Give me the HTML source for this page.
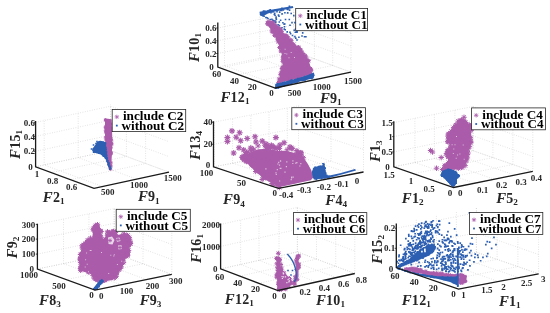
<!DOCTYPE html>
<html><head><meta charset="utf-8"><style>
html,body{margin:0;padding:0;background:#fff;}
svg{display:block;filter:blur(0.45px);font-family:"Liberation Serif","Times New Roman",serif;}
</style></head><body>
<svg width="550" height="313" viewBox="0 0 550 313">
<rect width="550" height="313" fill="#fff"/>
<path d="M217.8,28.0L293.6,12.2M217.8,40.8L293.6,25.0M217.8,53.5L293.6,37.7M224.5,65.6V21.0M281.9,86.6L224.5,65.6M259.7,58.3V13.7M317.1,79.3L259.7,58.3M293.6,51.2V6.6M351.0,72.2L293.6,51.2M293.6,12.2L351.0,33.2M293.6,25.0L351.0,46.0M293.6,37.7L351.0,58.7M296.1,52.1V7.5M220.3,67.9L296.1,52.1M314.4,58.8V14.2M238.6,74.6L314.4,58.8M332.7,65.5V20.9M256.9,81.3L332.7,65.5M351.0,72.2V27.6M275.2,88.0L351.0,72.2M217.8,67.0L293.6,51.2L351.0,72.2" stroke="#c8c8c8" stroke-width="0.6" stroke-dasharray="0.8,1.6" fill="none"/>
<path d="M35.6,122.4L110.6,106.2M35.6,136.4L110.6,120.2M35.6,151.3L110.6,135.1M44.2,165.0V119.2M102.5,186.5L44.2,165.0M78.2,157.6V111.8M136.6,179.1L78.2,157.6M110.6,150.6V104.8M169.0,172.1L110.6,150.6M110.6,106.2L169.0,127.7M110.6,120.2L169.0,141.7M110.6,135.1L169.0,156.6M110.6,150.6V104.8M35.6,166.8L110.6,150.6M126.4,156.4V110.6M51.4,172.6L126.4,156.4M145.6,163.5V117.7M70.6,179.7L145.6,163.5M35.6,166.8L110.6,150.6L169.0,172.1" stroke="#c8c8c8" stroke-width="0.6" stroke-dasharray="0.8,1.6" fill="none"/>
<path d="M213.5,122.2L298.5,105.8M213.5,144.3L298.5,127.9M214.3,166.7V121.1M279.4,188.2L214.3,166.7M232.6,163.2V117.6M297.6,184.7L232.6,163.2M250.9,159.7V114.1M315.9,181.2L250.9,159.7M269.0,156.2V110.6M334.0,177.7L269.0,156.2M287.3,152.7V107.1M352.3,174.2L287.3,152.7M298.5,105.8L363.5,127.3M298.5,127.9L363.5,149.4M298.5,150.5V104.9M213.5,166.9L298.5,150.5M331.0,161.2V115.6M246.0,177.7L331.0,161.2M363.5,172.0V126.4M278.5,188.4L363.5,172.0M213.5,166.9L298.5,150.5L363.5,172.0" stroke="#c8c8c8" stroke-width="0.6" stroke-dasharray="0.8,1.6" fill="none"/>
<path d="M393.8,122.6L473.0,106.5M393.8,136.6L473.0,120.5M393.8,151.9L473.0,135.8M414.9,162.5V117.0M474.7,183.2L414.9,162.5M434.4,158.5V113.0M494.2,179.2L434.4,158.5M454.9,154.4V108.9M514.7,175.1L454.9,154.4M473.0,150.7V105.2M532.8,171.4L473.0,150.7M473.0,106.5L532.8,127.2M473.0,120.5L532.8,141.2M473.0,135.8L532.8,156.5M473.0,150.7V105.2M393.8,166.8L473.0,150.7M492.9,157.6V112.1M413.7,173.7L492.9,157.6M512.9,164.5V119.0M433.7,180.6L512.9,164.5M532.8,171.4V125.9M453.6,187.5L532.8,171.4M393.8,166.8L473.0,150.7L532.8,171.4" stroke="#c8c8c8" stroke-width="0.6" stroke-dasharray="0.8,1.6" fill="none"/>
<path d="M37.4,224.4L114.2,208.6M37.4,239.1L114.2,223.3M37.4,254.1L114.2,238.3M63.5,263.6V218.4M121.1,284.8L63.5,263.6M88.9,258.4V213.2M146.5,279.6L88.9,258.4M114.2,253.2V208.0M171.8,274.4L114.2,253.2M114.2,208.6L171.8,229.8M114.2,223.3L171.8,244.5M114.2,238.3L171.8,259.5M114.2,253.2V208.0M37.4,269.0L114.2,253.2M143.0,263.8V218.6M66.2,279.6L143.0,263.8M171.8,274.4V229.2M95.0,290.2L171.8,274.4M37.4,269.0L114.2,253.2L171.8,274.4" stroke="#c8c8c8" stroke-width="0.6" stroke-dasharray="0.8,1.6" fill="none"/>
<path d="M220.6,224.4L297.4,207.4M220.6,246.4L297.4,229.4M240.6,264.5V219.0M298.0,286.1L240.6,264.5M259.0,260.4V214.9M316.4,282.0L259.0,260.4M279.0,256.0V210.5M336.4,277.6L279.0,256.0M297.4,251.9V206.4M354.8,273.5L297.4,251.9M297.4,207.4L354.8,229.0M297.4,229.4L354.8,251.0M297.4,251.9V206.4M220.6,268.9L297.4,251.9M316.5,259.1V213.6M239.7,276.1L316.5,259.1M335.7,266.3V220.8M258.9,283.3L335.7,266.3M354.8,273.5V228.0M278.0,290.5L354.8,273.5M220.6,268.9L297.4,251.9L354.8,273.5" stroke="#c8c8c8" stroke-width="0.6" stroke-dasharray="0.8,1.6" fill="none"/>
<path d="M396.3,228.2L476.4,212.8M396.3,248.3L476.4,232.9M416.3,263.8V219.6M478.5,285.4L416.3,263.8M436.4,259.9V215.7M498.6,281.5L436.4,259.9M456.4,256.1V211.9M518.6,277.6L456.4,256.1M476.4,252.2V208.0M538.6,273.8L476.4,252.2M476.4,212.8L538.6,234.4M476.4,232.9L538.6,254.5M476.4,252.2V208.0M396.3,267.6L476.4,252.2M497.1,259.4V215.2M417.0,274.8L497.1,259.4M517.9,266.6V222.4M437.8,282.0L517.9,266.6M538.6,273.8V229.6M458.5,289.2L538.6,273.8M396.3,267.6L476.4,252.2L538.6,273.8" stroke="#c8c8c8" stroke-width="0.6" stroke-dasharray="0.8,1.6" fill="none"/>
<path d="M259.5,11.8 L292.8,6.0 L293.2,8.0 L275.0,11.5 L268.0,13.6 L263.0,16.2 L260.0,15.5Z" fill="#2c5fb2" />
<path d="M281.1,7.5h1.6v1.6h-1.6zM264.1,10.4h1.6v1.6h-1.6zM263.0,10.2h1.6v1.6h-1.6zM288.6,5.5h1.6v1.6h-1.6zM288.7,5.7h1.6v1.6h-1.6zM274.6,9.0h1.6v1.6h-1.6zM286.8,8.7h1.6v1.6h-1.6zM262.6,10.6h1.6v1.6h-1.6zM268.6,9.4h1.6v1.6h-1.6zM270.2,11.8h1.6v1.6h-1.6zM282.6,9.2h1.6v1.6h-1.6zM262.9,10.3h1.6v1.6h-1.6zM279.8,9.5h1.6v1.6h-1.6zM286.3,8.1h1.6v1.6h-1.6zM272.2,11.2h1.6v1.6h-1.6zM287.2,8.6h1.6v1.6h-1.6zM276.2,10.9h1.6v1.6h-1.6zM267.1,10.2h1.6v1.6h-1.6zM269.5,9.0h1.6v1.6h-1.6zM280.9,9.6h1.6v1.6h-1.6z" fill="#2c5fb2"/>
<path d="M260.7,14.0h1.6v1.6h-1.6zM261.9,15.0h1.6v1.6h-1.6zM263.3,15.4h1.6v1.6h-1.6zM265.1,16.7h1.6v1.6h-1.6zM266.2,17.0h1.6v1.6h-1.6zM267.2,17.7h1.6v1.6h-1.6zM269.4,18.7h1.6v1.6h-1.6zM271.1,18.5h1.6v1.6h-1.6zM272.1,19.6h1.6v1.6h-1.6zM273.1,20.0h1.6v1.6h-1.6zM274.8,20.2h1.6v1.6h-1.6z" fill="#2c5fb2"/>
<path d="M273.1,21.0h1.6v1.6h-1.6zM275.0,21.6h1.6v1.6h-1.6zM277.3,24.0h1.6v1.6h-1.6zM278.6,24.8h1.6v1.6h-1.6zM281.2,26.9h1.6v1.6h-1.6zM283.5,28.3h1.6v1.6h-1.6zM284.4,29.0h1.6v1.6h-1.6zM286.4,31.1h1.6v1.6h-1.6zM289.2,31.4h1.6v1.6h-1.6zM289.8,32.9h1.6v1.6h-1.6zM291.7,34.7h1.6v1.6h-1.6zM294.1,35.8h1.6v1.6h-1.6zM295.0,37.5h1.6v1.6h-1.6z" fill="#2c5fb2"/>
<path d="M283.7,25.9h1.6v1.6h-1.6zM288.8,9.3h1.6v1.6h-1.6zM296.0,30.7h1.6v1.6h-1.6zM295.2,31.2h1.6v1.6h-1.6zM279.8,19.5h1.6v1.6h-1.6zM273.9,12.5h1.6v1.6h-1.6zM286.9,12.1h1.6v1.6h-1.6zM275.3,17.9h1.6v1.6h-1.6zM278.9,11.3h1.6v1.6h-1.6zM282.1,22.0h1.6v1.6h-1.6zM278.2,15.5h1.6v1.6h-1.6zM284.1,12.0h1.6v1.6h-1.6zM294.8,28.2h1.6v1.6h-1.6zM275.6,18.5h1.6v1.6h-1.6zM277.7,14.3h1.6v1.6h-1.6zM294.5,31.5h1.6v1.6h-1.6zM293.4,29.5h1.6v1.6h-1.6zM274.3,14.4h1.6v1.6h-1.6zM273.5,13.7h1.6v1.6h-1.6zM294.1,21.8h1.6v1.6h-1.6zM296.3,30.8h1.6v1.6h-1.6zM291.2,21.8h1.6v1.6h-1.6zM290.4,12.7h1.6v1.6h-1.6zM296.2,31.5h1.6v1.6h-1.6zM275.3,16.3h1.6v1.6h-1.6zM278.5,21.2h1.6v1.6h-1.6zM283.3,23.4h1.6v1.6h-1.6zM281.3,13.1h1.6v1.6h-1.6z" fill="#2c5fb2"/>
<path d="M284.7,18.7h1.6v1.6h-1.6zM288.5,18.7h1.6v1.6h-1.6zM284.0,23.2h1.6v1.6h-1.6zM289.2,24.4h1.6v1.6h-1.6zM301.9,32.1h1.6v1.6h-1.6zM305.1,35.9h1.6v1.6h-1.6zM301.2,35.2h1.6v1.6h-1.6zM298.1,36.5h1.6v1.6h-1.6zM293.0,14.8h1.6v1.6h-1.6zM303.7,35.9h1.6v1.6h-1.6zM296.2,39.2h1.6v1.6h-1.6z" fill="#2c5fb2"/>
<path d="M266.5,22.9 L267.9,21.4 L270.7,21.2 L272.2,22.0 L275.4,25.8 L279.2,28.4 L282.9,32.2 L288.1,37.3 L293.2,42.4 L298.3,47.5 L302.4,52.5 L305.4,55.5 L308.3,60.4 L309.9,64.2 L311.5,71.6 L312.1,73.8 L299.8,77.2 L289.8,80.2 L277.7,83.2 L279.3,78.1 L280.3,73.6 L282.3,68.2 L282.8,64.0 L281.8,53.9 L279.8,47.9 L277.9,42.8 L275.3,37.6 L272.7,32.5 L270.1,28.5 L267.0,24.8Z" fill="#aa5caa" />
<path d="M265.2,23.3h4.4M267.4,21.1v4.4M265.8,21.7l3.2,3.2M265.8,24.9l3.2,-3.2M286.0,37.8h4.4M288.2,35.6v4.4M286.6,36.2l3.2,3.2M286.6,39.4l3.2,-3.2M280.6,68.0h4.4M282.8,65.8v4.4M281.2,66.4l3.2,3.2M281.2,69.5l3.2,-3.2M304.1,57.9h4.4M306.3,55.7v4.4M304.7,56.3l3.2,3.2M304.7,59.5l3.2,-3.2M288.0,79.3h4.4M290.2,77.1v4.4M288.6,77.7l3.2,3.2M288.6,80.8l3.2,-3.2M277.5,29.6h4.4M279.7,27.4v4.4M278.1,28.0l3.2,3.2M278.1,31.2l3.2,-3.2M295.7,47.3h4.4M297.9,45.1v4.4M296.3,45.7l3.2,3.2M296.3,48.9l3.2,-3.2M280.6,59.3h4.4M282.8,57.1v4.4M281.2,57.7l3.2,3.2M281.2,60.9l3.2,-3.2M287.0,79.6h4.4M289.2,77.4v4.4M287.6,78.0l3.2,3.2M287.6,81.2l3.2,-3.2M272.4,35.5h4.4M274.6,33.3v4.4M273.0,33.9l3.2,3.2M273.0,37.0l3.2,-3.2M278.3,82.0h4.4M280.5,79.8v4.4M278.9,80.4l3.2,3.2M278.9,83.6l3.2,-3.2M295.4,77.2h4.4M297.6,75.0v4.4M296.1,75.6l3.2,3.2M296.1,78.7l3.2,-3.2M305.8,74.5h4.4M308.0,72.3v4.4M306.4,72.9l3.2,3.2M306.4,76.0l3.2,-3.2M301.2,75.1h4.4M303.4,72.9v4.4M301.8,73.6l3.2,3.2M301.8,76.7l3.2,-3.2M279.4,72.8h4.4M281.6,70.6v4.4M280.0,71.2l3.2,3.2M280.0,74.3l3.2,-3.2M269.5,30.9h4.4M271.7,28.7v4.4M270.2,29.3l3.2,3.2M270.2,32.5l3.2,-3.2M287.3,79.2h4.4M289.5,77.0v4.4M288.0,77.6l3.2,3.2M288.0,80.8l3.2,-3.2M277.3,47.5h4.4M279.5,45.3v4.4M277.9,45.9l3.2,3.2M277.9,49.1l3.2,-3.2M279.5,31.4h4.4M281.7,29.2v4.4M280.2,29.9l3.2,3.2M280.2,33.0l3.2,-3.2M273.0,25.6h4.4M275.2,23.4v4.4M273.6,24.1l3.2,3.2M273.6,27.2l3.2,-3.2M272.6,26.1h4.4M274.8,23.9v4.4M273.2,24.5l3.2,3.2M273.2,27.7l3.2,-3.2M280.9,57.2h4.4M283.1,55.0v4.4M281.5,55.6l3.2,3.2M281.5,58.8l3.2,-3.2M283.5,35.8h4.4M285.7,33.6v4.4M284.1,34.2l3.2,3.2M284.1,37.4l3.2,-3.2M276.8,79.0h4.4M279.0,76.8v4.4M277.5,77.4l3.2,3.2M277.5,80.6l3.2,-3.2M275.4,39.8h4.4M277.6,37.6v4.4M276.0,38.3l3.2,3.2M276.0,41.4l3.2,-3.2M291.4,44.3h4.4M293.6,42.1v4.4M292.0,42.7l3.2,3.2M292.0,45.8l3.2,-3.2M308.4,69.5h4.4M310.6,67.3v4.4M309.1,67.9l3.2,3.2M309.1,71.1l3.2,-3.2M265.6,24.1h4.4M267.8,21.9v4.4M266.2,22.5l3.2,3.2M266.2,25.7l3.2,-3.2M284.6,36.4h4.4M286.8,34.2v4.4M285.2,34.8l3.2,3.2M285.2,38.0l3.2,-3.2M295.0,77.8h4.4M297.2,75.6v4.4M295.6,76.2l3.2,3.2M295.6,79.4l3.2,-3.2M289.1,40.6h4.4M291.3,38.4v4.4M289.7,39.0l3.2,3.2M289.7,42.2l3.2,-3.2M279.7,68.5h4.4M281.9,66.3v4.4M280.3,66.9l3.2,3.2M280.3,70.1l3.2,-3.2M288.4,79.6h4.4M290.6,77.4v4.4M289.0,78.1l3.2,3.2M289.0,81.2l3.2,-3.2M266.0,21.6h4.4M268.2,19.4v4.4M266.6,20.0l3.2,3.2M266.6,23.2l3.2,-3.2M276.3,82.5h4.4M278.5,80.3v4.4M276.9,80.9l3.2,3.2M276.9,84.1l3.2,-3.2M271.2,25.2h4.4M273.4,23.0v4.4M271.8,23.6l3.2,3.2M271.8,26.8l3.2,-3.2M280.9,56.4h4.4M283.1,54.2v4.4M281.5,54.8l3.2,3.2M281.5,58.0l3.2,-3.2M277.6,29.1h4.4M279.8,26.9v4.4M278.2,27.6l3.2,3.2M278.2,30.7l3.2,-3.2M268.8,22.3h4.4M271.0,20.1v4.4M269.4,20.7l3.2,3.2M269.4,23.9l3.2,-3.2M298.3,50.1h4.4M300.5,47.9v4.4M299.0,48.5l3.2,3.2M299.0,51.7l3.2,-3.2M308.4,73.6h4.4M310.6,71.4v4.4M309.1,72.0l3.2,3.2M309.1,75.2l3.2,-3.2M278.7,51.0h4.4M280.9,48.8v4.4M279.3,49.4l3.2,3.2M279.3,52.6l3.2,-3.2M282.6,35.4h4.4M284.8,33.2v4.4M283.2,33.8l3.2,3.2M283.2,37.0l3.2,-3.2M285.5,80.0h4.4M287.7,77.8v4.4M286.1,78.4l3.2,3.2M286.1,81.6l3.2,-3.2M275.7,27.3h4.4M277.9,25.1v4.4M276.4,25.7l3.2,3.2M276.4,28.9l3.2,-3.2M278.2,74.3h4.4M280.4,72.1v4.4M278.9,72.7l3.2,3.2M278.9,75.8l3.2,-3.2M272.2,26.2h4.4M274.4,24.0v4.4M272.8,24.7l3.2,3.2M272.8,27.8l3.2,-3.2M277.0,83.7h4.4M279.2,81.5v4.4M277.6,82.1l3.2,3.2M277.6,85.3l3.2,-3.2M274.3,27.7h4.4M276.5,25.5v4.4M274.9,26.1l3.2,3.2M274.9,29.2l3.2,-3.2M271.6,25.4h4.4M273.8,23.2v4.4M272.2,23.8l3.2,3.2M272.2,27.0l3.2,-3.2M305.6,74.8h4.4M307.8,72.6v4.4M306.2,73.2l3.2,3.2M306.2,76.4l3.2,-3.2M288.4,78.9h4.4M290.6,76.7v4.4M289.0,77.4l3.2,3.2M289.0,80.5l3.2,-3.2M298.0,49.7h4.4M300.2,47.5v4.4M298.7,48.1l3.2,3.2M298.7,51.3l3.2,-3.2M293.1,78.5h4.4M295.3,76.3v4.4M293.7,76.9l3.2,3.2M293.7,80.1l3.2,-3.2M278.3,29.6h4.4M280.5,27.4v4.4M278.9,28.0l3.2,3.2M278.9,31.2l3.2,-3.2M270.5,22.6h4.4M272.7,20.4v4.4M271.1,21.0l3.2,3.2M271.1,24.2l3.2,-3.2M303.1,55.6h4.4M305.3,53.4v4.4M303.7,54.0l3.2,3.2M303.7,57.2l3.2,-3.2M280.5,61.6h4.4M282.7,59.4v4.4M281.1,60.0l3.2,3.2M281.1,63.2l3.2,-3.2M297.7,77.2h4.4M299.9,75.0v4.4M298.3,75.6l3.2,3.2M298.3,78.8l3.2,-3.2M306.5,60.7h4.4M308.7,58.5v4.4M307.1,59.1l3.2,3.2M307.1,62.3l3.2,-3.2M296.2,47.3h4.4M298.4,45.1v4.4M296.8,45.7l3.2,3.2M296.8,48.9l3.2,-3.2M280.8,66.6h4.4M283.0,64.4v4.4M281.4,65.0l3.2,3.2M281.4,68.1l3.2,-3.2M288.1,40.0h4.4M290.3,37.8v4.4M288.7,38.4l3.2,3.2M288.7,41.6l3.2,-3.2M270.1,32.1h4.4M272.3,29.9v4.4M270.7,30.5l3.2,3.2M270.7,33.7l3.2,-3.2M278.9,50.9h4.4M281.1,48.7v4.4M279.5,49.4l3.2,3.2M279.5,52.5l3.2,-3.2M298.4,76.1h4.4M300.6,73.9v4.4M299.0,74.5l3.2,3.2M299.0,77.7l3.2,-3.2M308.2,68.6h4.4M310.4,66.4v4.4M308.8,67.0l3.2,3.2M308.8,70.2l3.2,-3.2M279.0,74.5h4.4M281.2,72.3v4.4M279.6,72.9l3.2,3.2M279.6,76.1l3.2,-3.2M305.3,60.7h4.4M307.5,58.5v4.4M305.9,59.1l3.2,3.2M305.9,62.3l3.2,-3.2M279.5,71.4h4.4M281.7,69.2v4.4M280.2,69.8l3.2,3.2M280.2,73.0l3.2,-3.2M308.9,70.6h4.4M311.1,68.4v4.4M309.5,69.0l3.2,3.2M309.5,72.1l3.2,-3.2M271.0,23.1h4.4M273.2,20.9v4.4M271.6,21.5l3.2,3.2M271.6,24.6l3.2,-3.2M272.2,25.8h4.4M274.4,23.6v4.4M272.8,24.3l3.2,3.2M272.8,27.4l3.2,-3.2M296.6,48.1h4.4M298.8,45.9v4.4M297.2,46.5l3.2,3.2M297.2,49.6l3.2,-3.2M274.4,27.7h4.4M276.6,25.5v4.4M275.0,26.1l3.2,3.2M275.0,29.3l3.2,-3.2M276.1,42.0h4.4M278.3,39.8v4.4M276.7,40.4l3.2,3.2M276.7,43.6l3.2,-3.2M299.5,51.8h4.4M301.7,49.6v4.4M300.1,50.2l3.2,3.2M300.1,53.4l3.2,-3.2M300.7,53.5h4.4M302.9,51.3v4.4M301.3,51.9l3.2,3.2M301.3,55.1l3.2,-3.2M284.1,35.9h4.4M286.3,33.7v4.4M284.7,34.4l3.2,3.2M284.7,37.5l3.2,-3.2M296.6,49.8h4.4M298.8,47.6v4.4M297.2,48.2l3.2,3.2M297.2,51.4l3.2,-3.2" stroke="#aa5caa" stroke-width="1.0" fill="none"/>
<path d="M290.7,52.0h1.0v1.0h-1.0zM284.5,52.9h1.0v1.0h-1.0zM294.0,57.1h1.0v1.0h-1.0zM288.5,57.2h1.0v1.0h-1.0zM284.6,48.7h1.0v1.0h-1.0zM286.3,53.5h1.0v1.0h-1.0z" fill="#fff" opacity="0.6"/>
<path d="M274.5,88.5 L276.0,83.8 L290.0,80.2 L300.0,77.5 L313.3,73.3 L314.5,75.0 L313.5,78.3 L300.0,81.5 L290.0,84.5 L277.0,88.8Z" fill="#2c5fb2" />
<path d="M275.1,84.2h1.6v1.6h-1.6zM297.0,77.8h1.6v1.6h-1.6zM309.3,77.5h1.6v1.6h-1.6zM294.8,81.0h1.6v1.6h-1.6zM297.7,79.8h1.6v1.6h-1.6zM304.3,75.7h1.6v1.6h-1.6zM275.1,87.5h1.6v1.6h-1.6zM297.1,80.3h1.6v1.6h-1.6zM276.0,84.3h1.6v1.6h-1.6zM282.7,84.8h1.6v1.6h-1.6zM296.2,80.4h1.6v1.6h-1.6zM282.7,81.9h1.6v1.6h-1.6zM312.4,74.5h1.6v1.6h-1.6zM290.1,82.2h1.6v1.6h-1.6zM309.3,77.0h1.6v1.6h-1.6zM300.7,79.3h1.6v1.6h-1.6zM290.5,79.3h1.6v1.6h-1.6zM282.1,81.9h1.6v1.6h-1.6zM279.8,83.0h1.6v1.6h-1.6zM311.6,76.8h1.6v1.6h-1.6zM305.7,78.1h1.6v1.6h-1.6zM312.5,72.8h1.6v1.6h-1.6zM290.7,82.1h1.6v1.6h-1.6zM312.6,74.2h1.6v1.6h-1.6zM303.0,79.5h1.6v1.6h-1.6zM296.2,81.1h1.6v1.6h-1.6zM277.0,83.1h1.6v1.6h-1.6zM296.8,81.0h1.6v1.6h-1.6zM295.6,80.3h1.6v1.6h-1.6zM312.3,73.4h1.6v1.6h-1.6zM312.1,73.7h1.6v1.6h-1.6zM293.4,81.4h1.6v1.6h-1.6zM304.4,79.2h1.6v1.6h-1.6zM283.4,81.4h1.6v1.6h-1.6zM295.6,81.2h1.6v1.6h-1.6zM311.0,77.7h1.6v1.6h-1.6zM275.8,83.4h1.6v1.6h-1.6zM301.7,79.1h1.6v1.6h-1.6zM301.5,79.6h1.6v1.6h-1.6zM312.8,74.5h1.6v1.6h-1.6zM310.8,73.4h1.6v1.6h-1.6zM282.7,85.4h1.6v1.6h-1.6zM275.8,86.6h1.6v1.6h-1.6zM274.9,86.4h1.6v1.6h-1.6zM288.7,82.4h1.6v1.6h-1.6zM309.5,74.0h1.6v1.6h-1.6zM289.0,80.8h1.6v1.6h-1.6zM289.0,80.4h1.6v1.6h-1.6zM282.9,81.9h1.6v1.6h-1.6zM277.7,87.1h1.6v1.6h-1.6z" fill="#2c5fb2"/>
<path d="M105.0,119.5 L108.0,118.8 L111.6,119.3 L112.2,135.0 L112.0,152.0 L111.5,162.0 L111.0,170.5 L109.0,170.0 L107.0,163.0 L105.5,150.0 L105.0,135.0Z" fill="#aa5caa" />
<path d="M104.2,139.4h3.2M105.8,137.8v3.2M104.6,138.3l2.3,2.3M104.6,140.6l2.3,-2.3M104.2,132.0h3.2M105.8,130.4v3.2M104.6,130.9l2.3,2.3M104.6,133.2l2.3,-2.3M109.6,138.2h3.2M111.2,136.6v3.2M110.1,137.1l2.3,2.3M110.1,139.4l2.3,-2.3M109.4,166.4h3.2M111.0,164.8v3.2M109.9,165.3l2.3,2.3M109.9,167.6l2.3,-2.3M103.9,120.0h3.2M105.5,118.4v3.2M104.4,118.8l2.3,2.3M104.4,121.1l2.3,-2.3M109.4,162.5h3.2M111.0,160.9v3.2M109.9,161.4l2.3,2.3M109.9,163.7l2.3,-2.3M109.9,128.2h3.2M111.5,126.6v3.2M110.3,127.0l2.3,2.3M110.3,129.4l2.3,-2.3M109.6,147.6h3.2M111.2,146.0v3.2M110.0,146.5l2.3,2.3M110.0,148.8l2.3,-2.3M103.8,120.2h3.2M105.4,118.6v3.2M104.2,119.1l2.3,2.3M104.2,121.4l2.3,-2.3M103.8,137.3h3.2M105.4,135.7v3.2M104.2,136.2l2.3,2.3M104.2,138.5l2.3,-2.3M104.2,127.7h3.2M105.8,126.1v3.2M104.6,126.5l2.3,2.3M104.6,128.8l2.3,-2.3M103.8,130.4h3.2M105.4,128.8v3.2M104.3,129.3l2.3,2.3M104.3,131.6l2.3,-2.3M109.8,153.8h3.2M111.4,152.2v3.2M110.2,152.7l2.3,2.3M110.2,155.0l2.3,-2.3M104.1,119.6h3.2M105.7,118.0v3.2M104.5,118.5l2.3,2.3M104.5,120.8l2.3,-2.3M109.8,152.5h3.2M111.4,150.9v3.2M110.3,151.4l2.3,2.3M110.3,153.7l2.3,-2.3M110.3,143.1h3.2M111.9,141.5v3.2M110.7,141.9l2.3,2.3M110.7,144.2l2.3,-2.3M109.3,123.9h3.2M110.9,122.3v3.2M109.8,122.7l2.3,2.3M109.8,125.0l2.3,-2.3M109.5,144.2h3.2M111.1,142.6v3.2M110.0,143.1l2.3,2.3M110.0,145.4l2.3,-2.3M110.1,140.2h3.2M111.7,138.6v3.2M110.6,139.1l2.3,2.3M110.6,141.4l2.3,-2.3M109.1,169.2h3.2M110.7,167.6v3.2M109.6,168.0l2.3,2.3M109.6,170.3l2.3,-2.3M109.3,153.9h3.2M110.9,152.3v3.2M109.8,152.8l2.3,2.3M109.8,155.1l2.3,-2.3M104.2,132.3h3.2M105.8,130.7v3.2M104.7,131.2l2.3,2.3M104.7,133.5l2.3,-2.3M106.0,160.2h3.2M107.6,158.6v3.2M106.5,159.1l2.3,2.3M106.5,161.4l2.3,-2.3M104.0,126.1h3.2M105.6,124.5v3.2M104.5,124.9l2.3,2.3M104.5,127.2l2.3,-2.3M104.2,150.6h3.2M105.8,149.0v3.2M104.7,149.4l2.3,2.3M104.7,151.7l2.3,-2.3M104.4,149.2h3.2M106.0,147.6v3.2M104.9,148.0l2.3,2.3M104.9,150.3l2.3,-2.3M104.5,146.9h3.2M106.1,145.3v3.2M105.0,145.7l2.3,2.3M105.0,148.0l2.3,-2.3M110.3,144.3h3.2M111.9,142.7v3.2M110.7,143.2l2.3,2.3M110.7,145.5l2.3,-2.3M103.7,127.6h3.2M105.3,126.0v3.2M104.1,126.5l2.3,2.3M104.1,128.8l2.3,-2.3M109.3,164.9h3.2M110.9,163.3v3.2M109.7,163.7l2.3,2.3M109.7,166.0l2.3,-2.3" stroke="#aa5caa" stroke-width="0.8" fill="none"/>
<path d="M98.5,141.1 L100.6,140.8 L103.0,141.5 L105.7,142.0 L106.5,150.0 L107.5,158.0 L109.5,165.0 L110.9,170.2 L109.9,169.1 L107.8,162.9 L104.7,157.7 L100.6,154.6 L97.4,153.6 L93.3,152.5 L92.3,150.5 L94.3,146.3Z" fill="#2c5fb2" />
<path d="M105.5,156.7h1.6v1.6h-1.6zM97.0,142.0h1.6v1.6h-1.6zM104.4,156.6h1.6v1.6h-1.6zM108.1,163.3h1.6v1.6h-1.6zM105.0,146.7h1.6v1.6h-1.6zM104.5,149.9h1.6v1.6h-1.6zM109.4,167.8h1.6v1.6h-1.6zM94.5,146.5h1.6v1.6h-1.6zM109.3,167.9h1.6v1.6h-1.6zM105.3,148.6h1.6v1.6h-1.6zM107.1,159.9h1.6v1.6h-1.6zM105.6,152.1h1.6v1.6h-1.6zM108.4,162.2h1.6v1.6h-1.6zM98.1,152.5h1.6v1.6h-1.6zM108.1,165.3h1.6v1.6h-1.6zM107.6,162.5h1.6v1.6h-1.6zM102.2,141.2h1.6v1.6h-1.6zM96.4,142.4h1.6v1.6h-1.6zM109.7,167.1h1.6v1.6h-1.6zM92.3,149.1h1.6v1.6h-1.6zM105.9,154.6h1.6v1.6h-1.6zM108.0,164.3h1.6v1.6h-1.6zM96.4,143.8h1.6v1.6h-1.6zM92.4,148.3h1.6v1.6h-1.6zM99.8,141.1h1.6v1.6h-1.6zM93.6,147.0h1.6v1.6h-1.6zM106.8,161.3h1.6v1.6h-1.6zM107.2,163.8h1.6v1.6h-1.6zM93.5,151.0h1.6v1.6h-1.6zM96.8,142.3h1.6v1.6h-1.6zM104.6,142.2h1.6v1.6h-1.6zM109.3,165.7h1.6v1.6h-1.6zM95.7,144.5h1.6v1.6h-1.6zM105.2,156.9h1.6v1.6h-1.6zM109.0,168.5h1.6v1.6h-1.6zM100.4,141.3h1.6v1.6h-1.6zM104.7,151.7h1.6v1.6h-1.6zM104.8,157.3h1.6v1.6h-1.6zM104.6,143.7h1.6v1.6h-1.6zM105.6,157.7h1.6v1.6h-1.6zM104.7,142.4h1.6v1.6h-1.6zM109.1,165.6h1.6v1.6h-1.6zM108.0,163.3h1.6v1.6h-1.6zM106.2,160.4h1.6v1.6h-1.6zM105.9,156.9h1.6v1.6h-1.6zM96.5,143.4h1.6v1.6h-1.6zM93.2,147.8h1.6v1.6h-1.6zM105.5,151.8h1.6v1.6h-1.6zM96.6,143.3h1.6v1.6h-1.6zM106.5,157.3h1.6v1.6h-1.6zM109.9,167.5h1.6v1.6h-1.6zM108.6,165.7h1.6v1.6h-1.6zM104.0,155.3h1.6v1.6h-1.6zM105.7,151.2h1.6v1.6h-1.6zM106.7,159.7h1.6v1.6h-1.6zM102.6,155.3h1.6v1.6h-1.6zM94.7,151.2h1.6v1.6h-1.6zM109.2,167.2h1.6v1.6h-1.6zM96.7,142.5h1.6v1.6h-1.6zM92.8,151.3h1.6v1.6h-1.6z" fill="#2c5fb2"/>
<path d="M95.2,142.7h1.6v1.6h-1.6zM92.7,144.2h1.6v1.6h-1.6zM90.7,148.2h1.6v1.6h-1.6zM96.2,140.7h1.6v1.6h-1.6z" fill="#2c5fb2"/>
<path d="M229.0,130.9h6.0M232.0,127.9v6.0M229.8,128.7l4.3,4.3M229.8,133.1l4.3,-4.3M236.7,132.7h6.0M239.7,129.7v6.0M237.5,130.5l4.3,4.3M237.5,134.9l4.3,-4.3M224.4,137.6h6.0M227.4,134.6v6.0M225.2,135.4l4.3,4.3M225.2,139.8l4.3,-4.3M224.4,141.4h6.0M227.4,138.4v6.0M225.2,139.2l4.3,4.3M225.2,143.6l4.3,-4.3M233.2,137.2h6.0M236.2,134.2v6.0M234.0,135.0l4.3,4.3M234.0,139.4l4.3,-4.3M237.7,140.7h6.0M240.7,137.7v6.0M238.5,138.5l4.3,4.3M238.5,142.9l4.3,-4.3M244.2,138.5h6.0M247.2,135.5v6.0M245.0,136.3l4.3,4.3M245.0,140.7l4.3,-4.3M252.1,136.7h6.0M255.1,133.7v6.0M252.9,134.5l4.3,4.3M252.9,138.9l4.3,-4.3M253.0,142.0h6.0M256.0,139.0v6.0M253.8,139.8l4.3,4.3M253.8,144.2l4.3,-4.3M259.2,141.1h6.0M262.2,138.1v6.0M260.0,138.9l4.3,4.3M260.0,143.3l4.3,-4.3M272.9,137.6h6.0M275.9,134.6v6.0M273.7,135.4l4.3,4.3M273.7,139.8l4.3,-4.3M281.1,142.8h6.0M284.1,139.8v6.0M281.9,140.6l4.3,4.3M281.9,145.0l4.3,-4.3M236.0,147.8h6.0M239.0,144.8v6.0M236.8,145.6l4.3,4.3M236.8,150.0l4.3,-4.3M230.7,153.0h6.0M233.7,150.0v6.0M231.5,150.8l4.3,4.3M231.5,155.2l4.3,-4.3M240.7,149.9h6.0M243.7,146.9v6.0M241.5,147.7l4.3,4.3M241.5,152.1l4.3,-4.3M247.8,148.1h6.0M250.8,145.1v6.0M248.6,145.9l4.3,4.3M248.6,150.3l4.3,-4.3M240.7,157.8h6.0M243.7,154.8v6.0M241.5,155.6l4.3,4.3M241.5,160.0l4.3,-4.3M294.3,152.2h6.0M297.3,149.2v6.0M295.1,150.0l4.3,4.3M295.1,154.4l4.3,-4.3M298.0,153.0h6.0M301.0,150.0v6.0M298.8,150.8l4.3,4.3M298.8,155.2l4.3,-4.3M263.0,144.0h6.0M266.0,141.0v6.0M263.8,141.8l4.3,4.3M263.8,146.2l4.3,-4.3M287.0,147.0h6.0M290.0,144.0v6.0M287.8,144.8l4.3,4.3M287.8,149.2l4.3,-4.3M277.0,145.0h6.0M280.0,142.0v6.0M277.8,142.8l4.3,4.3M277.8,147.2l4.3,-4.3" stroke="#aa5caa" stroke-width="1.1" fill="none"/>
<path d="M243.6,158.0 L249.4,152.7 L258.2,149.3 L267.9,148.8 L276.9,150.8 L285.9,150.8 L295.8,153.3 L301.5,154.6 L307.9,164.0 L311.3,170.3 L313.2,177.5 L310.8,180.2 L278.9,187.2 L275.4,184.7 L265.9,180.0 L256.4,172.4 L246.9,162.9Z" fill="#aa5caa" />
<path d="" stroke="#aa5caa" stroke-width="1.0" fill="none"/>
<path d="M268.9,145.9h5.4M271.6,143.2v5.4M269.7,144.0l3.9,3.9M269.7,147.9l3.9,-3.9M246.9,157.2h5.4M249.6,154.5v5.4M247.7,155.2l3.9,3.9M247.7,159.1l3.9,-3.9M267.8,147.5h5.4M270.5,144.8v5.4M268.6,145.5l3.9,3.9M268.6,149.4l3.9,-3.9M246.0,158.0h5.4M248.7,155.3v5.4M246.7,156.1l3.9,3.9M246.7,160.0l3.9,-3.9M268.6,145.0h5.4M271.3,142.3v5.4M269.4,143.1l3.9,3.9M269.4,147.0l3.9,-3.9M244.0,152.6h5.4M246.7,149.9v5.4M244.7,150.7l3.9,3.9M244.7,154.6l3.9,-3.9M256.1,160.0h5.4M258.8,157.3v5.4M256.8,158.1l3.9,3.9M256.8,161.9l3.9,-3.9M242.2,157.1h5.4M244.9,154.4v5.4M242.9,155.2l3.9,3.9M242.9,159.1l3.9,-3.9M264.5,147.4h5.4M267.2,144.7v5.4M265.3,145.4l3.9,3.9M265.3,149.3l3.9,-3.9M244.4,154.6h5.4M247.1,151.9v5.4M245.1,152.6l3.9,3.9M245.1,156.5l3.9,-3.9M288.5,148.5h5.4M291.2,145.8v5.4M289.3,146.6l3.9,3.9M289.3,150.5l3.9,-3.9M239.5,157.0h5.4M242.2,154.3v5.4M240.3,155.0l3.9,3.9M240.3,158.9l3.9,-3.9M244.9,160.2h5.4M247.6,157.5v5.4M245.7,158.3l3.9,3.9M245.7,162.2l3.9,-3.9M265.3,147.7h5.4M268.0,145.0v5.4M266.1,145.7l3.9,3.9M266.1,149.6l3.9,-3.9M265.1,158.2h5.4M267.8,155.5v5.4M265.8,156.3l3.9,3.9M265.8,160.2l3.9,-3.9M300.6,157.7h5.4M303.3,155.0v5.4M301.3,155.8l3.9,3.9M301.3,159.7l3.9,-3.9M263.3,148.0h5.4M266.0,145.3v5.4M264.1,146.0l3.9,3.9M264.1,149.9l3.9,-3.9M243.2,156.5h5.4M245.9,153.8v5.4M243.9,154.5l3.9,3.9M243.9,158.4l3.9,-3.9M271.4,158.9h5.4M274.1,156.2v5.4M272.1,156.9l3.9,3.9M272.1,160.8l3.9,-3.9M248.5,151.0h5.4M251.2,148.3v5.4M249.3,149.1l3.9,3.9M249.3,153.0l3.9,-3.9M277.6,160.3h5.4M280.3,157.6v5.4M278.3,158.4l3.9,3.9M278.3,162.3l3.9,-3.9M276.8,148.6h5.4M279.5,145.9v5.4M277.5,146.6l3.9,3.9M277.5,150.5l3.9,-3.9M274.4,147.4h5.4M277.1,144.7v5.4M275.1,145.4l3.9,3.9M275.1,149.3l3.9,-3.9M273.4,149.1h5.4M276.1,146.4v5.4M274.2,147.2l3.9,3.9M274.2,151.1l3.9,-3.9M252.5,160.6h5.4M255.2,157.9v5.4M253.2,158.7l3.9,3.9M253.2,162.6l3.9,-3.9M241.8,155.6h5.4M244.5,152.9v5.4M242.6,153.7l3.9,3.9M242.6,157.6l3.9,-3.9M248.0,157.9h5.4M250.7,155.2v5.4M248.8,155.9l3.9,3.9M248.8,159.8l3.9,-3.9M271.7,147.7h5.4M274.4,145.0v5.4M272.5,145.8l3.9,3.9M272.5,149.6l3.9,-3.9M249.0,159.9h5.4M251.7,157.2v5.4M249.8,158.0l3.9,3.9M249.8,161.9l3.9,-3.9M278.5,162.2h5.4M281.2,159.5v5.4M279.3,160.2l3.9,3.9M279.3,164.1l3.9,-3.9M295.1,162.0h5.4M297.8,159.3v5.4M295.9,160.0l3.9,3.9M295.9,163.9l3.9,-3.9M288.7,147.8h5.4M291.4,145.1v5.4M289.4,145.8l3.9,3.9M289.4,149.7l3.9,-3.9M265.5,145.4h5.4M268.2,142.7v5.4M266.2,143.4l3.9,3.9M266.2,147.3l3.9,-3.9M245.2,152.0h5.4M247.9,149.3v5.4M245.9,150.0l3.9,3.9M245.9,153.9l3.9,-3.9M284.5,149.7h5.4M287.2,147.0v5.4M285.2,147.8l3.9,3.9M285.2,151.6l3.9,-3.9M240.9,156.3h5.4M243.6,153.6v5.4M241.6,154.3l3.9,3.9M241.6,158.2l3.9,-3.9M250.6,150.0h5.4M253.3,147.3v5.4M251.4,148.1l3.9,3.9M251.4,152.0l3.9,-3.9M298.0,152.6h5.4M300.7,149.9v5.4M298.7,150.6l3.9,3.9M298.7,154.5l3.9,-3.9M294.7,163.5h5.4M297.4,160.8v5.4M295.4,161.6l3.9,3.9M295.4,165.5l3.9,-3.9M262.5,158.2h5.4M265.2,155.5v5.4M263.2,156.3l3.9,3.9M263.2,160.1l3.9,-3.9M261.9,160.1h5.4M264.6,157.4v5.4M262.6,158.1l3.9,3.9M262.6,162.0l3.9,-3.9M290.0,148.6h5.4M292.7,145.9v5.4M290.8,146.7l3.9,3.9M290.8,150.6l3.9,-3.9M270.5,146.2h5.4M273.2,143.5v5.4M271.2,144.3l3.9,3.9M271.2,148.2l3.9,-3.9M256.8,158.6h5.4M259.5,155.9v5.4M257.6,156.6l3.9,3.9M257.6,160.5l3.9,-3.9M294.2,150.7h5.4M296.9,148.0v5.4M295.0,148.7l3.9,3.9M295.0,152.6l3.9,-3.9M270.5,147.7h5.4M273.2,145.0v5.4M271.2,145.7l3.9,3.9M271.2,149.6l3.9,-3.9M239.8,157.8h5.4M242.5,155.1v5.4M240.5,155.9l3.9,3.9M240.5,159.8l3.9,-3.9M267.1,161.7h5.4M269.8,159.0v5.4M267.9,159.8l3.9,3.9M267.9,163.7l3.9,-3.9M243.8,152.7h5.4M246.5,150.0v5.4M244.5,150.7l3.9,3.9M244.5,154.6l3.9,-3.9M265.3,146.7h5.4M268.0,144.0v5.4M266.0,144.8l3.9,3.9M266.0,148.7l3.9,-3.9M249.5,160.1h5.4M252.2,157.4v5.4M250.3,158.2l3.9,3.9M250.3,162.1l3.9,-3.9M298.3,154.3h5.4M301.0,151.6v5.4M299.0,152.3l3.9,3.9M299.0,156.2l3.9,-3.9M246.2,158.9h5.4M248.9,156.2v5.4M247.0,156.9l3.9,3.9M247.0,160.8l3.9,-3.9M292.9,162.0h5.4M295.6,159.3v5.4M293.7,160.1l3.9,3.9M293.7,164.0l3.9,-3.9M255.4,145.9h5.4M258.1,143.2v5.4M256.2,143.9l3.9,3.9M256.2,147.8l3.9,-3.9M297.5,161.6h5.4M300.2,158.9v5.4M298.3,159.7l3.9,3.9M298.3,163.6l3.9,-3.9M240.7,157.5h5.4M243.4,154.8v5.4M241.5,155.6l3.9,3.9M241.5,159.5l3.9,-3.9M262.0,145.2h5.4M264.7,142.5v5.4M262.8,143.3l3.9,3.9M262.8,147.2l3.9,-3.9M269.3,158.6h5.4M272.0,155.9v5.4M270.1,156.7l3.9,3.9M270.1,160.6l3.9,-3.9M250.9,149.1h5.4M253.6,146.4v5.4M251.6,147.2l3.9,3.9M251.6,151.1l3.9,-3.9" stroke="#aa5caa" stroke-width="1.0" fill="none"/>
<path d="M249.2,165.4h5.4M251.9,162.7v5.4M249.9,163.4l3.9,3.9M249.9,167.3l3.9,-3.9M253.9,169.0h5.4M256.6,166.3v5.4M254.7,167.1l3.9,3.9M254.7,171.0l3.9,-3.9M253.0,171.5h5.4M255.7,168.8v5.4M253.8,169.6l3.9,3.9M253.8,173.5l3.9,-3.9M244.4,161.5h5.4M247.1,158.8v5.4M245.1,159.5l3.9,3.9M245.1,163.4l3.9,-3.9M267.4,179.5h5.4M270.1,176.8v5.4M268.1,177.5l3.9,3.9M268.1,181.4l3.9,-3.9M260.6,178.0h5.4M263.3,175.3v5.4M261.4,176.1l3.9,3.9M261.4,179.9l3.9,-3.9M276.6,187.5h5.4M279.3,184.8v5.4M277.4,185.6l3.9,3.9M277.4,189.5l3.9,-3.9M263.0,177.8h5.4M265.7,175.1v5.4M263.8,175.9l3.9,3.9M263.8,179.8l3.9,-3.9M241.6,160.3h5.4M244.3,157.6v5.4M242.3,158.3l3.9,3.9M242.3,162.2l3.9,-3.9M243.9,161.5h5.4M246.6,158.8v5.4M244.6,159.6l3.9,3.9M244.6,163.5l3.9,-3.9M269.2,183.5h5.4M271.9,180.8v5.4M270.0,181.6l3.9,3.9M270.0,185.5l3.9,-3.9M239.4,157.4h5.4M242.1,154.7v5.4M240.2,155.5l3.9,3.9M240.2,159.4l3.9,-3.9M242.2,158.1h5.4M244.9,155.4v5.4M243.0,156.1l3.9,3.9M243.0,160.0l3.9,-3.9M241.4,159.8h5.4M244.1,157.1v5.4M242.1,157.9l3.9,3.9M242.1,161.7l3.9,-3.9M259.4,179.5h5.4M262.1,176.8v5.4M260.2,177.5l3.9,3.9M260.2,181.4l3.9,-3.9M274.5,185.6h5.4M277.2,182.9v5.4M275.2,183.7l3.9,3.9M275.2,187.6l3.9,-3.9M270.7,184.3h5.4M273.4,181.6v5.4M271.4,182.4l3.9,3.9M271.4,186.3l3.9,-3.9M249.3,164.2h5.4M252.0,161.5v5.4M250.0,162.3l3.9,3.9M250.0,166.2l3.9,-3.9M260.1,174.8h5.4M262.8,172.1v5.4M260.9,172.8l3.9,3.9M260.9,176.7l3.9,-3.9M265.8,178.0h5.4M268.5,175.3v5.4M266.5,176.1l3.9,3.9M266.5,180.0l3.9,-3.9" stroke="#aa5caa" stroke-width="1.0" fill="none"/>
<path d="M265.3,168.2h1.2v1.2h-1.2zM280.3,167.8h1.2v1.2h-1.2zM290.6,179.1h1.2v1.2h-1.2zM292.3,160.2h1.2v1.2h-1.2zM296.3,162.0h1.2v1.2h-1.2zM284.4,171.5h1.2v1.2h-1.2zM285.8,166.1h1.2v1.2h-1.2zM275.4,172.2h1.2v1.2h-1.2zM275.7,173.9h1.2v1.2h-1.2zM276.7,169.0h1.2v1.2h-1.2zM278.9,164.6h1.2v1.2h-1.2zM292.6,176.6h1.2v1.2h-1.2zM277.3,163.4h1.2v1.2h-1.2zM278.1,161.8h1.2v1.2h-1.2zM279.9,160.3h1.2v1.2h-1.2zM286.2,161.2h1.2v1.2h-1.2zM291.1,176.5h1.2v1.2h-1.2zM280.0,160.6h1.2v1.2h-1.2zM279.6,167.7h1.2v1.2h-1.2zM291.0,177.3h1.2v1.2h-1.2zM279.0,180.4h1.2v1.2h-1.2zM300.2,163.0h1.2v1.2h-1.2zM292.2,162.9h1.2v1.2h-1.2zM299.2,165.4h1.2v1.2h-1.2zM295.2,162.6h1.2v1.2h-1.2z" fill="#fff" opacity="0.6"/>
<path d="M313.3,168.2 L315.5,166.7 L319.1,166.0 L322.7,165.3 L323.7,163.2 L324.9,166.0 L325.6,170.4 L326.4,174.7 L328.5,175.8 L329.3,177.6 L319.1,179.0 L314.7,179.8 L312.5,176.2 L311.8,171.8Z" fill="#2c5fb2" />
<path d="M327.0,177.0h1.6v1.6h-1.6zM323.0,163.2h1.6v1.6h-1.6zM327.9,176.8h1.6v1.6h-1.6zM314.4,166.5h1.6v1.6h-1.6zM321.2,166.2h1.6v1.6h-1.6zM319.0,176.7h1.6v1.6h-1.6zM321.6,165.8h1.6v1.6h-1.6zM318.6,166.0h1.6v1.6h-1.6zM321.5,177.2h1.6v1.6h-1.6zM312.4,174.0h1.6v1.6h-1.6zM324.5,175.9h1.6v1.6h-1.6zM318.1,166.9h1.6v1.6h-1.6zM321.8,177.1h1.6v1.6h-1.6zM313.6,177.7h1.6v1.6h-1.6zM313.1,168.2h1.6v1.6h-1.6zM323.7,170.1h1.6v1.6h-1.6zM325.9,174.4h1.6v1.6h-1.6zM315.6,178.6h1.6v1.6h-1.6zM312.9,176.7h1.6v1.6h-1.6zM321.2,176.2h1.6v1.6h-1.6zM324.2,176.3h1.6v1.6h-1.6zM324.4,167.3h1.6v1.6h-1.6zM314.2,166.5h1.6v1.6h-1.6zM322.6,176.9h1.6v1.6h-1.6zM328.2,175.4h1.6v1.6h-1.6zM319.4,165.4h1.6v1.6h-1.6zM320.6,177.8h1.6v1.6h-1.6zM312.9,167.8h1.6v1.6h-1.6zM318.0,165.8h1.6v1.6h-1.6zM322.1,163.0h1.6v1.6h-1.6zM324.1,177.1h1.6v1.6h-1.6zM322.1,176.9h1.6v1.6h-1.6zM319.8,166.4h1.6v1.6h-1.6zM323.2,163.7h1.6v1.6h-1.6zM317.5,166.4h1.6v1.6h-1.6zM312.8,174.1h1.6v1.6h-1.6zM324.9,172.3h1.6v1.6h-1.6zM313.6,167.9h1.6v1.6h-1.6zM325.6,176.6h1.6v1.6h-1.6zM320.9,177.1h1.6v1.6h-1.6z" fill="#2c5fb2"/>
<path d="M326.0,176.2 L340.0,173.2 L355.0,168.9 L356.0,170.4 L340.0,175.0 L327.0,178.6Z" fill="#2c5fb2" />
<path d="M427.8,150.5h5.4M430.5,147.8v5.4M428.6,148.6l3.9,3.9M428.6,152.4l3.9,-3.9M429.8,152.0h5.4M432.5,149.3v5.4M430.6,150.1l3.9,3.9M430.6,153.9l3.9,-3.9M438.5,157.5h5.4M441.2,154.8v5.4M439.3,155.6l3.9,3.9M439.3,159.4l3.9,-3.9M433.8,168.2h5.4M436.5,165.5v5.4M434.6,166.3l3.9,3.9M434.6,170.1l3.9,-3.9M461.3,117.3h5.4M464.0,114.6v5.4M462.1,115.4l3.9,3.9M462.1,119.2l3.9,-3.9M443.7,153.6h5.4M446.4,150.9v5.4M444.5,151.7l3.9,3.9M444.5,155.5l3.9,-3.9M439.8,169.5h5.4M442.5,166.8v5.4M440.6,167.6l3.9,3.9M440.6,171.4l3.9,-3.9M444.3,170.5h5.4M447.0,167.8v5.4M445.1,168.6l3.9,3.9M445.1,172.4l3.9,-3.9" stroke="#aa5caa" stroke-width="1.0" fill="none"/>
<path d="M458.3,121.0 L461.0,120.3 L464.7,120.7 L467.6,123.0 L470.5,126.8 L471.5,137.0 L469.5,147.1 L467.4,157.5 L465.4,165.7 L462.5,168.3 L459.4,169.7 L450.0,169.2 L441.6,169.5 L444.0,166.4 L448.2,159.9 L446.2,153.6 L448.1,149.8 L450.3,145.2 L447.2,140.9 L448.2,135.1 L450.2,130.2 L453.2,128.2 L456.3,124.0Z" fill="#aa5caa" />
<path d="M451.5,128.7h5.4M454.2,126.0v5.4M452.2,126.8l3.9,3.9M452.2,130.7l3.9,-3.9M465.8,144.4h5.4M468.5,141.7v5.4M466.6,142.4l3.9,3.9M466.6,146.3l3.9,-3.9M461.0,121.4h5.4M463.7,118.7v5.4M461.7,119.4l3.9,3.9M461.7,123.3l3.9,-3.9M462.4,165.6h5.4M465.1,162.9v5.4M463.2,163.7l3.9,3.9M463.2,167.6l3.9,-3.9M461.8,122.2h5.4M464.5,119.5v5.4M462.5,120.2l3.9,3.9M462.5,124.1l3.9,-3.9M457.2,121.5h5.4M459.9,118.8v5.4M458.0,119.5l3.9,3.9M458.0,123.4l3.9,-3.9M450.9,127.6h5.4M453.6,124.9v5.4M451.6,125.7l3.9,3.9M451.6,129.6l3.9,-3.9M467.7,137.7h5.4M470.4,135.0v5.4M468.5,135.8l3.9,3.9M468.5,139.7l3.9,-3.9M450.4,168.4h5.4M453.1,165.7v5.4M451.1,166.4l3.9,3.9M451.1,170.3l3.9,-3.9M445.4,142.0h5.4M448.1,139.3v5.4M446.2,140.1l3.9,3.9M446.2,144.0l3.9,-3.9M465.3,153.0h5.4M468.0,150.3v5.4M466.1,151.1l3.9,3.9M466.1,154.9l3.9,-3.9M461.5,122.2h5.4M464.2,119.5v5.4M462.2,120.2l3.9,3.9M462.2,124.1l3.9,-3.9M448.1,146.9h5.4M450.8,144.2v5.4M448.9,145.0l3.9,3.9M448.9,148.8l3.9,-3.9M456.5,122.3h5.4M459.2,119.6v5.4M457.3,120.3l3.9,3.9M457.3,124.2l3.9,-3.9M445.3,151.4h5.4M448.0,148.7v5.4M446.1,149.4l3.9,3.9M446.1,153.3l3.9,-3.9M445.1,151.8h5.4M447.8,149.1v5.4M445.8,149.9l3.9,3.9M445.8,153.8l3.9,-3.9M468.0,141.6h5.4M470.7,138.9v5.4M468.8,139.6l3.9,3.9M468.8,143.5l3.9,-3.9M468.0,142.5h5.4M470.7,139.8v5.4M468.7,140.5l3.9,3.9M468.7,144.4l3.9,-3.9M463.7,156.4h5.4M466.4,153.7v5.4M464.5,154.5l3.9,3.9M464.5,158.4l3.9,-3.9M446.0,156.7h5.4M448.7,154.0v5.4M446.7,154.7l3.9,3.9M446.7,158.6l3.9,-3.9M444.2,154.8h5.4M446.9,152.1v5.4M444.9,152.9l3.9,3.9M444.9,156.7l3.9,-3.9M443.6,168.7h5.4M446.3,166.0v5.4M444.4,166.8l3.9,3.9M444.4,170.7l3.9,-3.9M448.1,146.0h5.4M450.8,143.3v5.4M448.9,144.1l3.9,3.9M448.9,148.0l3.9,-3.9M465.9,146.8h5.4M468.6,144.1v5.4M466.7,144.9l3.9,3.9M466.7,148.7l3.9,-3.9M453.0,125.0h5.4M455.7,122.3v5.4M453.8,123.0l3.9,3.9M453.8,126.9l3.9,-3.9M445.7,133.8h5.4M448.4,131.1v5.4M446.4,131.9l3.9,3.9M446.4,135.8l3.9,-3.9M466.8,146.3h5.4M469.5,143.6v5.4M467.6,144.3l3.9,3.9M467.6,148.2l3.9,-3.9M446.1,152.0h5.4M448.8,149.3v5.4M446.9,150.0l3.9,3.9M446.9,153.9l3.9,-3.9M445.1,151.1h5.4M447.8,148.4v5.4M445.9,149.2l3.9,3.9M445.9,153.1l3.9,-3.9M446.3,134.1h5.4M449.0,131.4v5.4M447.0,132.1l3.9,3.9M447.0,136.0l3.9,-3.9M466.1,143.1h5.4M468.8,140.4v5.4M466.8,141.1l3.9,3.9M466.8,145.0l3.9,-3.9M442.7,166.2h5.4M445.4,163.5v5.4M443.4,164.3l3.9,3.9M443.4,168.2l3.9,-3.9M445.8,162.5h5.4M448.5,159.8v5.4M446.6,160.5l3.9,3.9M446.6,164.4l3.9,-3.9M455.6,168.3h5.4M458.3,165.6v5.4M456.4,166.3l3.9,3.9M456.4,170.2l3.9,-3.9M445.9,156.3h5.4M448.6,153.6v5.4M446.6,154.4l3.9,3.9M446.6,158.3l3.9,-3.9M459.0,167.4h5.4M461.7,164.7v5.4M459.8,165.5l3.9,3.9M459.8,169.4l3.9,-3.9M441.3,169.0h5.4M444.0,166.3v5.4M442.1,167.1l3.9,3.9M442.1,171.0l3.9,-3.9M467.4,139.4h5.4M470.1,136.7v5.4M468.1,137.5l3.9,3.9M468.1,141.4l3.9,-3.9M463.8,124.0h5.4M466.5,121.3v5.4M464.5,122.1l3.9,3.9M464.5,125.9l3.9,-3.9M468.4,130.4h5.4M471.1,127.7v5.4M469.2,128.5l3.9,3.9M469.2,132.4l3.9,-3.9M465.8,126.7h5.4M468.5,124.0v5.4M466.5,124.8l3.9,3.9M466.5,128.7l3.9,-3.9M464.7,157.9h5.4M467.4,155.2v5.4M465.4,156.0l3.9,3.9M465.4,159.9l3.9,-3.9M458.9,120.2h5.4M461.6,117.5v5.4M459.7,118.2l3.9,3.9M459.7,122.1l3.9,-3.9M445.7,157.1h5.4M448.4,154.4v5.4M446.4,155.2l3.9,3.9M446.4,159.1l3.9,-3.9M445.7,156.5h5.4M448.4,153.8v5.4M446.4,154.5l3.9,3.9M446.4,158.4l3.9,-3.9M462.8,122.5h5.4M465.5,119.8v5.4M463.6,120.5l3.9,3.9M463.6,124.4l3.9,-3.9M462.7,160.1h5.4M465.4,157.4v5.4M463.5,158.2l3.9,3.9M463.5,162.1l3.9,-3.9M446.0,140.5h5.4M448.7,137.8v5.4M446.8,138.5l3.9,3.9M446.8,142.4l3.9,-3.9M462.5,122.9h5.4M465.2,120.2v5.4M463.3,121.0l3.9,3.9M463.3,124.9l3.9,-3.9M448.6,131.3h5.4M451.3,128.6v5.4M449.4,129.4l3.9,3.9M449.4,133.3l3.9,-3.9M467.0,125.9h5.4M469.7,123.2v5.4M467.7,124.0l3.9,3.9M467.7,127.9l3.9,-3.9M467.7,126.3h5.4M470.4,123.6v5.4M468.4,124.3l3.9,3.9M468.4,128.2l3.9,-3.9M446.3,138.4h5.4M449.0,135.7v5.4M447.0,136.5l3.9,3.9M447.0,140.3l3.9,-3.9M443.2,166.0h5.4M445.9,163.3v5.4M443.9,164.0l3.9,3.9M443.9,167.9l3.9,-3.9M442.1,165.7h5.4M444.8,163.0v5.4M442.8,163.7l3.9,3.9M442.8,167.6l3.9,-3.9M466.6,125.0h5.4M469.3,122.3v5.4M467.3,123.0l3.9,3.9M467.3,126.9l3.9,-3.9M445.6,149.6h5.4M448.3,146.9v5.4M446.3,147.7l3.9,3.9M446.3,151.6l3.9,-3.9M464.8,154.3h5.4M467.5,151.6v5.4M465.6,152.4l3.9,3.9M465.6,156.2l3.9,-3.9M458.2,120.6h5.4M460.9,117.9v5.4M459.0,118.6l3.9,3.9M459.0,122.5l3.9,-3.9M465.3,149.1h5.4M468.0,146.4v5.4M466.0,147.2l3.9,3.9M466.0,151.1l3.9,-3.9M463.5,161.0h5.4M466.2,158.3v5.4M464.3,159.0l3.9,3.9M464.3,162.9l3.9,-3.9M453.4,125.5h5.4M456.1,122.8v5.4M454.1,123.5l3.9,3.9M454.1,127.4l3.9,-3.9M446.0,137.8h5.4M448.7,135.1v5.4M446.7,135.9l3.9,3.9M446.7,139.8l3.9,-3.9M459.2,120.9h5.4M461.9,118.2v5.4M459.9,119.0l3.9,3.9M459.9,122.9l3.9,-3.9M459.1,167.3h5.4M461.8,164.6v5.4M459.9,165.4l3.9,3.9M459.9,169.2l3.9,-3.9M463.5,157.9h5.4M466.2,155.2v5.4M464.3,156.0l3.9,3.9M464.3,159.8l3.9,-3.9M445.9,169.1h5.4M448.6,166.4v5.4M446.6,167.2l3.9,3.9M446.6,171.1l3.9,-3.9M445.2,136.1h5.4M447.9,133.4v5.4M445.9,134.2l3.9,3.9M445.9,138.1l3.9,-3.9M444.9,141.3h5.4M447.6,138.6v5.4M445.6,139.3l3.9,3.9M445.6,143.2l3.9,-3.9M455.5,121.2h5.4M458.2,118.5v5.4M456.3,119.3l3.9,3.9M456.3,123.2l3.9,-3.9" stroke="#aa5caa" stroke-width="1.0" fill="none"/>
<path d="M463.7,158.8h1.0v1.0h-1.0zM451.6,144.2h1.0v1.0h-1.0zM459.4,153.4h1.0v1.0h-1.0zM454.5,144.3h1.0v1.0h-1.0zM457.1,154.5h1.0v1.0h-1.0zM455.7,157.8h1.0v1.0h-1.0zM456.0,135.9h1.0v1.0h-1.0zM462.7,144.4h1.0v1.0h-1.0zM453.3,148.6h1.0v1.0h-1.0zM452.8,153.1h1.0v1.0h-1.0z" fill="#fff" opacity="0.6"/>
<path d="M442.2,170.7 L444.7,169.7 L448.3,168.7 L451.9,169.7 L454.4,170.7 L457.0,171.8 L458.0,174.3 L460.1,175.4 L458.5,177.4 L457.0,178.9 L457.0,182.5 L455.5,185.1 L453.9,187.1 L451.4,186.1 L447.3,181.5 L443.7,177.9 L440.6,175.4 L441.1,173.3Z" fill="#2c5fb2" />
<path d="M449.6,182.4h1.6v1.6h-1.6zM451.9,185.2h1.6v1.6h-1.6zM457.3,176.0h1.6v1.6h-1.6zM441.0,175.2h1.6v1.6h-1.6zM441.1,175.3h1.6v1.6h-1.6zM452.5,170.0h1.6v1.6h-1.6zM440.8,174.4h1.6v1.6h-1.6zM457.6,174.6h1.6v1.6h-1.6zM453.8,170.8h1.6v1.6h-1.6zM454.5,182.5h1.6v1.6h-1.6zM447.3,180.2h1.6v1.6h-1.6zM458.4,174.8h1.6v1.6h-1.6zM449.6,169.7h1.6v1.6h-1.6zM450.9,184.0h1.6v1.6h-1.6zM450.5,169.5h1.6v1.6h-1.6zM446.4,179.3h1.6v1.6h-1.6zM448.1,168.8h1.6v1.6h-1.6zM441.4,175.2h1.6v1.6h-1.6zM451.7,169.7h1.6v1.6h-1.6zM449.4,182.1h1.6v1.6h-1.6zM449.8,168.9h1.6v1.6h-1.6zM454.6,171.0h1.6v1.6h-1.6zM455.4,182.4h1.6v1.6h-1.6zM457.4,174.1h1.6v1.6h-1.6zM441.8,171.6h1.6v1.6h-1.6zM447.3,169.4h1.6v1.6h-1.6zM447.1,168.7h1.6v1.6h-1.6zM442.1,171.2h1.6v1.6h-1.6zM447.9,181.2h1.6v1.6h-1.6zM451.8,170.2h1.6v1.6h-1.6zM447.3,168.4h1.6v1.6h-1.6zM458.1,175.7h1.6v1.6h-1.6zM457.0,175.6h1.6v1.6h-1.6zM449.5,182.8h1.6v1.6h-1.6zM451.7,184.9h1.6v1.6h-1.6zM448.9,169.3h1.6v1.6h-1.6zM456.9,175.9h1.6v1.6h-1.6zM440.5,174.2h1.6v1.6h-1.6zM453.2,184.4h1.6v1.6h-1.6zM456.7,176.9h1.6v1.6h-1.6z" fill="#2c5fb2"/>
<path d="M93.0,230.9 L93.2,227.1 L95.2,225.2 L97.7,224.2 L99.4,225.7 L100.8,229.3 L101.2,233.2 L102.9,239.1 L105.7,236.4 L106.2,234.7 L107.6,232.0 L109.3,231.4 L111.8,232.2 L113.1,230.6 L114.9,232.0 L118.2,234.8 L122.1,234.3 L125.8,234.1 L128.5,235.6 L129.7,237.4 L130.4,243.4 L127.7,247.9 L129.7,252.4 L126.0,258.1 L122.3,264.1 L119.3,270.1 L116.3,276.0 L112.2,280.3 L105.0,280.7 L100.6,280.7 L95.0,279.5 L90.5,273.5 L84.3,271.9 L80.2,270.1 L79.5,264.5 L80.3,254.1 L81.8,246.7 L83.3,244.0 L88.3,239.1 L92.3,237.6Z" fill="#aa5caa" />
<path d="M85.7,271.5h5.4M88.4,268.8v5.4M86.4,269.5l3.9,3.9M86.4,273.4l3.9,-3.9M78.5,269.1h5.4M81.2,266.4v5.4M79.3,267.1l3.9,3.9M79.3,271.0l3.9,-3.9M78.6,254.2h5.4M81.3,251.5v5.4M79.4,252.3l3.9,3.9M79.4,256.2l3.9,-3.9M98.0,280.1h5.4M100.7,277.4v5.4M98.7,278.2l3.9,3.9M98.7,282.1l3.9,-3.9M125.5,236.9h5.4M128.2,234.2v5.4M126.2,235.0l3.9,3.9M126.2,238.8l3.9,-3.9M97.7,230.8h5.4M100.4,228.1v5.4M98.5,228.9l3.9,3.9M98.5,232.8l3.9,-3.9M78.3,267.5h5.4M81.0,264.8v5.4M79.1,265.5l3.9,3.9M79.1,269.4l3.9,-3.9M100.0,280.5h5.4M102.7,277.8v5.4M100.7,278.6l3.9,3.9M100.7,282.5l3.9,-3.9M124.7,254.7h5.4M127.4,252.0v5.4M125.5,252.8l3.9,3.9M125.5,256.7l3.9,-3.9M101.6,280.2h5.4M104.3,277.5v5.4M102.3,278.3l3.9,3.9M102.3,282.1l3.9,-3.9M93.3,278.3h5.4M96.0,275.6v5.4M94.1,276.4l3.9,3.9M94.1,280.3l3.9,-3.9M105.5,232.9h5.4M108.2,230.2v5.4M106.3,230.9l3.9,3.9M106.3,234.8l3.9,-3.9M77.8,268.4h5.4M80.5,265.7v5.4M78.5,266.4l3.9,3.9M78.5,270.3l3.9,-3.9M117.1,265.5h5.4M119.8,262.8v5.4M117.8,263.5l3.9,3.9M117.8,267.4l3.9,-3.9M92.8,225.9h5.4M95.5,223.2v5.4M93.6,224.0l3.9,3.9M93.6,227.9l3.9,-3.9M104.7,235.3h5.4M107.4,232.6v5.4M105.4,233.4l3.9,3.9M105.4,237.3l3.9,-3.9M85.3,240.3h5.4M88.0,237.6v5.4M86.1,238.4l3.9,3.9M86.1,242.3l3.9,-3.9M97.5,231.5h5.4M100.2,228.8v5.4M98.3,229.5l3.9,3.9M98.3,233.4l3.9,-3.9M113.1,274.7h5.4M115.8,272.0v5.4M113.8,272.7l3.9,3.9M113.8,276.6l3.9,-3.9M115.7,269.7h5.4M118.4,267.0v5.4M116.5,267.7l3.9,3.9M116.5,271.6l3.9,-3.9M78.0,258.8h5.4M80.7,256.1v5.4M78.7,256.8l3.9,3.9M78.7,260.7l3.9,-3.9M125.3,252.0h5.4M128.0,249.3v5.4M126.0,250.1l3.9,3.9M126.0,254.0l3.9,-3.9M111.0,231.9h5.4M113.7,229.2v5.4M111.7,230.0l3.9,3.9M111.7,233.8l3.9,-3.9M124.9,251.0h5.4M127.6,248.3v5.4M125.7,249.0l3.9,3.9M125.7,252.9l3.9,-3.9M97.6,236.0h5.4M100.3,233.3v5.4M98.3,234.1l3.9,3.9M98.3,238.0l3.9,-3.9M127.8,243.5h5.4M130.5,240.8v5.4M128.5,241.6l3.9,3.9M128.5,245.5l3.9,-3.9M120.4,234.7h5.4M123.1,232.0v5.4M121.1,232.8l3.9,3.9M121.1,236.7l3.9,-3.9M91.0,228.3h5.4M93.7,225.6v5.4M91.8,226.4l3.9,3.9M91.8,230.3l3.9,-3.9M124.6,254.0h5.4M127.3,251.3v5.4M125.4,252.0l3.9,3.9M125.4,255.9l3.9,-3.9M127.5,243.4h5.4M130.2,240.7v5.4M128.2,241.4l3.9,3.9M128.2,245.3l3.9,-3.9M110.6,232.4h5.4M113.3,229.7v5.4M111.4,230.4l3.9,3.9M111.4,234.3l3.9,-3.9M85.3,240.4h5.4M88.0,237.7v5.4M86.0,238.5l3.9,3.9M86.0,242.4l3.9,-3.9M109.7,231.9h5.4M112.4,229.2v5.4M110.4,229.9l3.9,3.9M110.4,233.8l3.9,-3.9M125.9,250.4h5.4M128.6,247.7v5.4M126.6,248.5l3.9,3.9M126.6,252.4l3.9,-3.9M98.3,237.2h5.4M101.0,234.5v5.4M99.1,235.3l3.9,3.9M99.1,239.1l3.9,-3.9M77.9,262.6h5.4M80.6,259.9v5.4M78.7,260.6l3.9,3.9M78.7,264.5l3.9,-3.9M119.8,262.2h5.4M122.5,259.5v5.4M120.6,260.2l3.9,3.9M120.6,264.1l3.9,-3.9M110.6,232.9h5.4M113.3,230.2v5.4M111.4,231.0l3.9,3.9M111.4,234.9l3.9,-3.9M126.7,243.6h5.4M129.4,240.9v5.4M127.5,241.7l3.9,3.9M127.5,245.6l3.9,-3.9M78.4,260.8h5.4M81.1,258.1v5.4M79.2,258.9l3.9,3.9M79.2,262.8l3.9,-3.9M120.4,262.3h5.4M123.1,259.6v5.4M121.2,260.3l3.9,3.9M121.2,264.2l3.9,-3.9M113.6,276.2h5.4M116.3,273.5v5.4M114.3,274.3l3.9,3.9M114.3,278.1l3.9,-3.9M77.7,257.8h5.4M80.4,255.1v5.4M78.5,255.9l3.9,3.9M78.5,259.8l3.9,-3.9M77.8,254.5h5.4M80.5,251.8v5.4M78.5,252.6l3.9,3.9M78.5,256.5l3.9,-3.9M125.4,246.8h5.4M128.1,244.1v5.4M126.1,244.8l3.9,3.9M126.1,248.7l3.9,-3.9M124.9,255.4h5.4M127.6,252.7v5.4M125.7,253.5l3.9,3.9M125.7,257.4l3.9,-3.9M91.5,230.4h5.4M94.2,227.7v5.4M92.2,228.5l3.9,3.9M92.2,232.4l3.9,-3.9M121.7,234.4h5.4M124.4,231.7v5.4M122.5,232.4l3.9,3.9M122.5,236.3l3.9,-3.9M124.6,235.7h5.4M127.3,233.0v5.4M125.4,233.8l3.9,3.9M125.4,237.7l3.9,-3.9M123.9,255.3h5.4M126.6,252.6v5.4M124.7,253.4l3.9,3.9M124.7,257.3l3.9,-3.9M94.5,279.6h5.4M97.2,276.9v5.4M95.3,277.6l3.9,3.9M95.3,281.5l3.9,-3.9M84.2,242.4h5.4M86.9,239.7v5.4M84.9,240.5l3.9,3.9M84.9,244.4l3.9,-3.9M94.3,225.5h5.4M97.0,222.8v5.4M95.0,223.5l3.9,3.9M95.0,227.4l3.9,-3.9M81.4,245.2h5.4M84.1,242.5v5.4M82.2,243.2l3.9,3.9M82.2,247.1l3.9,-3.9M102.8,239.4h5.4M105.5,236.7v5.4M103.5,237.4l3.9,3.9M103.5,241.3l3.9,-3.9M99.3,281.0h5.4M102.0,278.3v5.4M100.1,279.0l3.9,3.9M100.1,282.9l3.9,-3.9M92.0,228.7h5.4M94.7,226.0v5.4M92.8,226.8l3.9,3.9M92.8,230.7l3.9,-3.9M95.1,279.9h5.4M97.8,277.2v5.4M95.9,278.0l3.9,3.9M95.9,281.9l3.9,-3.9M98.4,231.5h5.4M101.1,228.8v5.4M99.1,229.5l3.9,3.9M99.1,233.4l3.9,-3.9M111.9,233.4h5.4M114.6,230.7v5.4M112.6,231.4l3.9,3.9M112.6,235.3l3.9,-3.9M127.6,242.2h5.4M130.3,239.5v5.4M128.3,240.3l3.9,3.9M128.3,244.2l3.9,-3.9M81.3,245.5h5.4M84.0,242.8v5.4M82.0,243.5l3.9,3.9M82.0,247.4l3.9,-3.9M105.3,234.5h5.4M108.0,231.8v5.4M106.1,232.5l3.9,3.9M106.1,236.4l3.9,-3.9M104.0,279.3h5.4M106.7,276.6v5.4M104.8,277.4l3.9,3.9M104.8,281.3l3.9,-3.9M93.0,278.1h5.4M95.7,275.4v5.4M93.8,276.2l3.9,3.9M93.8,280.1l3.9,-3.9M78.4,266.3h5.4M81.1,263.6v5.4M79.2,264.4l3.9,3.9M79.2,268.3l3.9,-3.9M106.9,232.7h5.4M109.6,230.0v5.4M107.7,230.8l3.9,3.9M107.7,234.6l3.9,-3.9M113.9,272.8h5.4M116.6,270.1v5.4M114.7,270.9l3.9,3.9M114.7,274.8l3.9,-3.9M122.4,256.7h5.4M125.1,254.0v5.4M123.2,254.8l3.9,3.9M123.2,258.7l3.9,-3.9M112.4,276.9h5.4M115.1,274.2v5.4M113.2,275.0l3.9,3.9M113.2,278.9l3.9,-3.9M112.8,232.5h5.4M115.5,229.8v5.4M113.5,230.5l3.9,3.9M113.5,234.4l3.9,-3.9M118.4,266.9h5.4M121.1,264.2v5.4M119.2,264.9l3.9,3.9M119.2,268.8l3.9,-3.9M120.8,262.3h5.4M123.5,259.6v5.4M121.5,260.3l3.9,3.9M121.5,264.2l3.9,-3.9M117.8,266.2h5.4M120.5,263.5v5.4M118.6,264.2l3.9,3.9M118.6,268.1l3.9,-3.9M112.9,274.3h5.4M115.6,271.6v5.4M113.7,272.3l3.9,3.9M113.7,276.2l3.9,-3.9M91.8,229.7h5.4M94.5,227.0v5.4M92.5,227.7l3.9,3.9M92.5,231.6l3.9,-3.9M120.0,262.0h5.4M122.7,259.3v5.4M120.7,260.0l3.9,3.9M120.7,263.9l3.9,-3.9M93.6,278.4h5.4M96.3,275.7v5.4M94.3,276.4l3.9,3.9M94.3,280.3l3.9,-3.9M125.2,246.4h5.4M127.9,243.7v5.4M126.0,244.5l3.9,3.9M126.0,248.4l3.9,-3.9M87.9,238.2h5.4M90.6,235.5v5.4M88.6,236.2l3.9,3.9M88.6,240.1l3.9,-3.9M98.5,279.7h5.4M101.2,277.0v5.4M99.3,277.8l3.9,3.9M99.3,281.7l3.9,-3.9M92.1,226.9h5.4M94.8,224.2v5.4M92.9,225.0l3.9,3.9M92.9,228.8l3.9,-3.9M92.5,277.2h5.4M95.2,274.5v5.4M93.2,275.2l3.9,3.9M93.2,279.1l3.9,-3.9M125.6,239.3h5.4M128.3,236.6v5.4M126.3,237.4l3.9,3.9M126.3,241.3l3.9,-3.9M116.1,269.5h5.4M118.8,266.8v5.4M116.9,267.6l3.9,3.9M116.9,271.5l3.9,-3.9M79.3,245.8h5.4M82.0,243.1v5.4M80.1,243.9l3.9,3.9M80.1,247.8l3.9,-3.9M86.3,272.2h5.4M89.0,269.5v5.4M87.1,270.2l3.9,3.9M87.1,274.1l3.9,-3.9M126.0,240.9h5.4M128.7,238.2v5.4M126.7,238.9l3.9,3.9M126.7,242.8l3.9,-3.9M126.0,244.9h5.4M128.7,242.2v5.4M126.7,242.9l3.9,3.9M126.7,246.8l3.9,-3.9M114.3,271.9h5.4M117.0,269.2v5.4M115.1,270.0l3.9,3.9M115.1,273.8l3.9,-3.9M110.7,231.5h5.4M113.4,228.8v5.4M111.5,229.5l3.9,3.9M111.5,233.4l3.9,-3.9M124.7,254.4h5.4M127.4,251.7v5.4M125.4,252.5l3.9,3.9M125.4,256.4l3.9,-3.9M77.5,259.2h5.4M80.2,256.5v5.4M78.2,257.2l3.9,3.9M78.2,261.1l3.9,-3.9M77.7,259.0h5.4M80.4,256.3v5.4M78.5,257.1l3.9,3.9M78.5,260.9l3.9,-3.9M117.1,268.5h5.4M119.8,265.8v5.4M117.9,266.6l3.9,3.9M117.9,270.5l3.9,-3.9M115.6,268.4h5.4M118.3,265.7v5.4M116.4,266.4l3.9,3.9M116.4,270.3l3.9,-3.9M95.6,278.9h5.4M98.3,276.2v5.4M96.4,277.0l3.9,3.9M96.4,280.9l3.9,-3.9M126.9,239.2h5.4M129.6,236.5v5.4M127.7,237.3l3.9,3.9M127.7,241.2l3.9,-3.9M124.1,235.7h5.4M126.8,233.0v5.4M124.9,233.7l3.9,3.9M124.9,237.6l3.9,-3.9M99.0,279.4h5.4M101.7,276.7v5.4M99.7,277.5l3.9,3.9M99.7,281.4l3.9,-3.9M93.3,226.1h5.4M96.0,223.4v5.4M94.0,224.2l3.9,3.9M94.0,228.1l3.9,-3.9M79.6,248.1h5.4M82.3,245.4v5.4M80.4,246.1l3.9,3.9M80.4,250.0l3.9,-3.9M94.8,224.7h5.4M97.5,222.0v5.4M95.5,222.7l3.9,3.9M95.5,226.6l3.9,-3.9M90.5,229.7h5.4M93.2,227.0v5.4M91.2,227.7l3.9,3.9M91.2,231.6l3.9,-3.9M82.8,243.1h5.4M85.5,240.4v5.4M83.6,241.1l3.9,3.9M83.6,245.0l3.9,-3.9M95.0,278.8h5.4M97.7,276.1v5.4M95.7,276.8l3.9,3.9M95.7,280.7l3.9,-3.9M81.2,244.7h5.4M83.9,242.0v5.4M82.0,242.8l3.9,3.9M82.0,246.6l3.9,-3.9M102.4,279.8h5.4M105.1,277.1v5.4M103.2,277.8l3.9,3.9M103.2,281.7l3.9,-3.9M90.3,275.4h5.4M93.0,272.7v5.4M91.1,273.5l3.9,3.9M91.1,277.4l3.9,-3.9M91.5,278.3h5.4M94.2,275.6v5.4M92.3,276.3l3.9,3.9M92.3,280.2l3.9,-3.9M93.1,279.0h5.4M95.8,276.3v5.4M93.9,277.1l3.9,3.9M93.9,281.0l3.9,-3.9M78.0,270.3h5.4M80.7,267.6v5.4M78.8,268.4l3.9,3.9M78.8,272.3l3.9,-3.9M104.8,231.8h5.4M107.5,229.1v5.4M105.5,229.9l3.9,3.9M105.5,233.8l3.9,-3.9M78.9,268.9h5.4M81.6,266.2v5.4M79.7,267.0l3.9,3.9M79.7,270.9l3.9,-3.9M95.2,279.7h5.4M97.9,277.0v5.4M96.0,277.7l3.9,3.9M96.0,281.6l3.9,-3.9M78.4,260.1h5.4M81.1,257.4v5.4M79.2,258.1l3.9,3.9M79.2,262.0l3.9,-3.9M111.5,277.9h5.4M114.2,275.2v5.4M112.2,276.0l3.9,3.9M112.2,279.9l3.9,-3.9M124.7,235.6h5.4M127.4,232.9v5.4M125.5,233.7l3.9,3.9M125.5,237.6l3.9,-3.9M126.4,237.6h5.4M129.1,234.9v5.4M127.2,235.6l3.9,3.9M127.2,239.5l3.9,-3.9M98.1,279.2h5.4M100.8,276.5v5.4M98.9,277.2l3.9,3.9M98.9,281.1l3.9,-3.9" stroke="#aa5caa" stroke-width="1.0" fill="none"/>
<path d="M108,237.5 L112,236.5 L114.5,240 L112.5,244.5 L108.5,244 Z M116,238 L119.5,237.5 L120.5,241 L117,242 Z M118,245.5 L121.5,245 L122,249 L118.5,249.5 Z" fill="#fff" opacity="0.75"/>
<path d="M108.0,240.5h4.0M110.0,238.5v4.0M108.6,239.1l2.9,2.9M108.6,241.9l2.9,-2.9M116.0,239.5h4.0M118.0,237.5v4.0M116.6,238.1l2.9,2.9M116.6,240.9l2.9,-2.9M118.0,247.5h4.0M120.0,245.5v4.0M118.6,246.1l2.9,2.9M118.6,248.9l2.9,-2.9" stroke="#aa5caa" stroke-width="0.8" fill="none"/>
<path d="M86.7,263.7h1.0v1.0h-1.0zM86.1,252.5h1.0v1.0h-1.0zM116.9,263.9h1.0v1.0h-1.0zM121.2,260.7h1.0v1.0h-1.0zM85.1,259.2h1.0v1.0h-1.0zM108.2,272.9h1.0v1.0h-1.0zM123.7,261.4h1.0v1.0h-1.0zM101.0,252.1h1.0v1.0h-1.0zM110.3,254.8h1.0v1.0h-1.0zM90.6,249.9h1.0v1.0h-1.0zM84.7,266.6h1.0v1.0h-1.0zM88.0,271.2h1.0v1.0h-1.0zM89.7,249.9h1.0v1.0h-1.0zM113.3,255.6h1.0v1.0h-1.0zM113.8,254.2h1.0v1.0h-1.0z" fill="#fff" opacity="0.6"/>
<path d="M93.0,288.5 L100.0,280.0 L102.5,279.5 L103.5,281.5 L97.0,289.5 L94.5,290.5Z" fill="#2c5fb2" />
<path d="M94.1,287.2h1.6v1.6h-1.6zM97.6,285.0h1.6v1.6h-1.6zM98.0,286.0h1.6v1.6h-1.6zM99.4,283.0h1.6v1.6h-1.6zM100.9,280.1h1.6v1.6h-1.6zM98.3,282.4h1.6v1.6h-1.6zM98.3,285.7h1.6v1.6h-1.6zM93.3,288.0h1.6v1.6h-1.6zM96.3,288.1h1.6v1.6h-1.6zM99.2,280.9h1.6v1.6h-1.6zM96.5,284.5h1.6v1.6h-1.6zM102.2,280.3h1.6v1.6h-1.6zM99.9,280.0h1.6v1.6h-1.6zM100.9,279.3h1.6v1.6h-1.6zM96.0,284.9h1.6v1.6h-1.6zM99.7,280.1h1.6v1.6h-1.6zM99.7,283.3h1.6v1.6h-1.6zM100.5,280.1h1.6v1.6h-1.6zM94.1,288.4h1.6v1.6h-1.6zM101.0,281.9h1.6v1.6h-1.6z" fill="#2c5fb2"/>
<path d="M275.9,253.3h4.8M278.3,250.9v4.8M276.6,251.6l3.5,3.5M276.6,255.0l3.5,-3.5" stroke="#aa5caa" stroke-width="1.0" fill="none"/>
<path d="M276.8,258.1 L278.1,257.3 L280.2,257.7 L280.5,267.3 L286.4,274.5 L291.7,282.8 L290.4,284.4 L284.7,289.3 L279.2,289.7 L277.3,287.9 L276.8,270.0Z" fill="#aa5caa" />
<path d="M277.6,259.4h4.4M279.8,257.2v4.4M278.2,257.8l3.2,3.2M278.2,261.0l3.2,-3.2M276.0,283.0h4.4M278.2,280.8v4.4M276.6,281.5l3.2,3.2M276.6,284.6l3.2,-3.2M285.7,278.0h4.4M287.9,275.8v4.4M286.3,276.5l3.2,3.2M286.3,279.6l3.2,-3.2M275.7,259.9h4.4M277.9,257.7v4.4M276.3,258.3l3.2,3.2M276.3,261.5l3.2,-3.2M276.9,289.7h4.4M279.1,287.5v4.4M277.6,288.1l3.2,3.2M277.6,291.2l3.2,-3.2M287.6,283.1h4.4M289.8,280.9v4.4M288.2,281.6l3.2,3.2M288.2,284.7l3.2,-3.2M287.6,281.3h4.4M289.8,279.1v4.4M288.3,279.7l3.2,3.2M288.3,282.9l3.2,-3.2M276.8,288.5h4.4M279.0,286.3v4.4M277.4,286.9l3.2,3.2M277.4,290.1l3.2,-3.2M274.7,274.3h4.4M276.9,272.1v4.4M275.3,272.7l3.2,3.2M275.3,275.8l3.2,-3.2M274.4,258.5h4.4M276.6,256.3v4.4M275.0,256.9l3.2,3.2M275.0,260.1l3.2,-3.2M288.4,283.0h4.4M290.6,280.8v4.4M289.0,281.4l3.2,3.2M289.0,284.6l3.2,-3.2M275.9,273.5h4.4M278.1,271.3v4.4M276.5,271.9l3.2,3.2M276.5,275.1l3.2,-3.2M276.2,258.6h4.4M278.4,256.4v4.4M276.8,257.0l3.2,3.2M276.8,260.2l3.2,-3.2M275.9,273.9h4.4M278.1,271.7v4.4M276.5,272.3l3.2,3.2M276.5,275.5l3.2,-3.2M279.4,289.5h4.4M281.6,287.3v4.4M280.0,287.9l3.2,3.2M280.0,291.1l3.2,-3.2M275.6,270.5h4.4M277.8,268.3v4.4M276.3,269.0l3.2,3.2M276.3,272.1l3.2,-3.2M276.2,284.6h4.4M278.4,282.4v4.4M276.9,283.0l3.2,3.2M276.9,286.2l3.2,-3.2M287.3,278.5h4.4M289.5,276.3v4.4M287.9,276.9l3.2,3.2M287.9,280.1l3.2,-3.2M280.9,288.4h4.4M283.1,286.2v4.4M281.5,286.8l3.2,3.2M281.5,289.9l3.2,-3.2M278.9,269.5h4.4M281.1,267.3v4.4M279.5,267.9l3.2,3.2M279.5,271.1l3.2,-3.2M274.5,263.8h4.4M276.7,261.6v4.4M275.1,262.2l3.2,3.2M275.1,265.4l3.2,-3.2M277.7,289.2h4.4M279.9,287.0v4.4M278.3,287.6l3.2,3.2M278.3,290.8l3.2,-3.2M286.8,285.9h4.4M289.0,283.7v4.4M287.4,284.3l3.2,3.2M287.4,287.5l3.2,-3.2M281.8,273.0h4.4M284.0,270.8v4.4M282.4,271.4l3.2,3.2M282.4,274.6l3.2,-3.2M275.1,275.6h4.4M277.3,273.4v4.4M275.7,274.0l3.2,3.2M275.7,277.2l3.2,-3.2M277.0,259.3h4.4M279.2,257.1v4.4M277.6,257.7l3.2,3.2M277.6,260.9l3.2,-3.2M274.7,277.3h4.4M276.9,275.1v4.4M275.3,275.7l3.2,3.2M275.3,278.8l3.2,-3.2M278.7,288.3h4.4M280.9,286.1v4.4M279.3,286.8l3.2,3.2M279.3,289.9l3.2,-3.2M275.1,267.7h4.4M277.3,265.5v4.4M275.7,266.1l3.2,3.2M275.7,269.3l3.2,-3.2M285.5,285.9h4.4M287.7,283.7v4.4M286.2,284.3l3.2,3.2M286.2,287.5l3.2,-3.2M279.2,268.0h4.4M281.4,265.8v4.4M279.8,266.4l3.2,3.2M279.8,269.6l3.2,-3.2M277.9,268.1h4.4M280.1,265.9v4.4M278.5,266.5l3.2,3.2M278.5,269.7l3.2,-3.2M287.2,280.2h4.4M289.4,278.0v4.4M287.8,278.6l3.2,3.2M287.8,281.8l3.2,-3.2M289.1,283.0h4.4M291.3,280.8v4.4M289.7,281.4l3.2,3.2M289.7,284.5l3.2,-3.2M278.7,264.5h4.4M280.9,262.3v4.4M279.3,262.9l3.2,3.2M279.3,266.0l3.2,-3.2M274.8,258.2h4.4M277.0,256.0v4.4M275.4,256.7l3.2,3.2M275.4,259.8l3.2,-3.2M277.4,260.9h4.4M279.6,258.7v4.4M278.0,259.3l3.2,3.2M278.0,262.4l3.2,-3.2M274.5,276.0h4.4M276.7,273.8v4.4M275.1,274.4l3.2,3.2M275.1,277.6l3.2,-3.2M277.3,289.6h4.4M279.5,287.4v4.4M277.9,288.0l3.2,3.2M277.9,291.1l3.2,-3.2M283.5,289.1h4.4M285.7,286.9v4.4M284.1,287.5l3.2,3.2M284.1,290.7l3.2,-3.2" stroke="#aa5caa" stroke-width="1.0" fill="none"/>
<path d="M296.3,255.1 L297.5,254.8 L298.5,255.1 L298.5,276.9 L295.4,282.5 L293.7,283.7 L294.8,278.1 L296.3,270.1Z" fill="#aa5caa" />
<path d="M296.2,255.8h4.4M298.4,253.6v4.4M296.8,254.2l3.2,3.2M296.8,257.4l3.2,-3.2M294.5,263.8h4.4M296.7,261.6v4.4M295.1,262.2l3.2,3.2M295.1,265.4l3.2,-3.2M291.8,283.3h4.4M294.0,281.1v4.4M292.4,281.7l3.2,3.2M292.4,284.9l3.2,-3.2M294.4,269.5h4.4M296.6,267.3v4.4M295.0,267.9l3.2,3.2M295.0,271.1l3.2,-3.2M294.9,258.5h4.4M297.1,256.3v4.4M295.6,256.9l3.2,3.2M295.6,260.1l3.2,-3.2M295.3,266.9h4.4M297.5,264.7v4.4M295.9,265.3l3.2,3.2M295.9,268.5l3.2,-3.2M296.6,267.3h4.4M298.8,265.1v4.4M297.2,265.8l3.2,3.2M297.2,268.9l3.2,-3.2M296.4,263.9h4.4M298.6,261.7v4.4M297.0,262.3l3.2,3.2M297.0,265.5l3.2,-3.2M296.6,256.2h4.4M298.8,254.0v4.4M297.2,254.6l3.2,3.2M297.2,257.8l3.2,-3.2M292.6,284.1h4.4M294.8,281.9v4.4M293.2,282.5l3.2,3.2M293.2,285.7l3.2,-3.2M293.6,279.3h4.4M295.8,277.1v4.4M294.2,277.8l3.2,3.2M294.2,280.9l3.2,-3.2M293.8,260.9h4.4M296.0,258.7v4.4M294.4,259.3l3.2,3.2M294.4,262.5l3.2,-3.2M292.3,281.3h4.4M294.5,279.1v4.4M292.9,279.7l3.2,3.2M292.9,282.9l3.2,-3.2M295.2,258.6h4.4M297.4,256.4v4.4M295.8,257.0l3.2,3.2M295.8,260.1l3.2,-3.2M295.8,267.6h4.4M298.0,265.4v4.4M296.4,266.0l3.2,3.2M296.4,269.1l3.2,-3.2M293.6,278.7h4.4M295.8,276.5v4.4M294.3,277.1l3.2,3.2M294.3,280.3l3.2,-3.2M293.1,276.7h4.4M295.3,274.5v4.4M293.7,275.1l3.2,3.2M293.7,278.3l3.2,-3.2M295.0,279.4h4.4M297.2,277.2v4.4M295.6,277.8l3.2,3.2M295.6,281.0l3.2,-3.2M295.3,257.2h4.4M297.5,255.0v4.4M295.9,255.7l3.2,3.2M295.9,258.8l3.2,-3.2M296.6,265.2h4.4M298.8,263.0v4.4M297.2,263.6l3.2,3.2M297.2,266.8l3.2,-3.2" stroke="#aa5caa" stroke-width="1.0" fill="none"/>
<path d="M283.0,276.3h1.2v1.2h-1.2zM288.3,281.3h1.2v1.2h-1.2zM286.3,282.0h1.2v1.2h-1.2zM281.5,275.9h1.2v1.2h-1.2zM283.0,273.1h1.2v1.2h-1.2zM282.8,273.4h1.2v1.2h-1.2zM281.8,277.7h1.2v1.2h-1.2zM288.8,280.2h1.2v1.2h-1.2zM284.9,276.2h1.2v1.2h-1.2zM288.6,278.1h1.2v1.2h-1.2zM282.6,272.2h1.2v1.2h-1.2zM287.5,279.1h1.2v1.2h-1.2z" fill="#fff" opacity="0.8"/>
<path d="M287.3,254 Q293,260 295,267 T296,279 L294,282" stroke="#2c5fb2" stroke-width="1.3" fill="none"/>
<path d="M287.2,269.7h1.6v1.6h-1.6zM291.7,269.7h1.6v1.6h-1.6zM290.2,274.2h1.6v1.6h-1.6z" fill="#2c5fb2"/>
<path d="M403.5,258.8h1.7v1.7h-1.7zM408.0,243.2h1.7v1.7h-1.7zM429.2,240.5h1.7v1.7h-1.7zM400.3,259.6h1.7v1.7h-1.7zM422.9,236.3h1.7v1.7h-1.7zM415.8,238.9h1.7v1.7h-1.7zM425.0,239.1h1.7v1.7h-1.7zM428.0,240.7h1.7v1.7h-1.7zM428.9,247.1h1.7v1.7h-1.7zM431.9,236.6h1.7v1.7h-1.7zM419.3,233.8h1.7v1.7h-1.7zM404.8,255.3h1.7v1.7h-1.7zM424.5,235.8h1.7v1.7h-1.7zM420.7,246.0h1.7v1.7h-1.7zM420.8,253.2h1.7v1.7h-1.7zM428.2,249.0h1.7v1.7h-1.7zM425.3,243.0h1.7v1.7h-1.7zM424.9,231.0h1.7v1.7h-1.7zM428.1,240.5h1.7v1.7h-1.7zM431.8,245.4h1.7v1.7h-1.7zM430.4,238.2h1.7v1.7h-1.7zM405.0,257.4h1.7v1.7h-1.7zM411.9,249.4h1.7v1.7h-1.7zM414.6,246.7h1.7v1.7h-1.7zM402.6,253.4h1.7v1.7h-1.7zM410.0,253.3h1.7v1.7h-1.7zM412.3,254.7h1.7v1.7h-1.7zM400.4,258.8h1.7v1.7h-1.7zM417.1,247.2h1.7v1.7h-1.7zM407.4,256.9h1.7v1.7h-1.7zM424.0,235.8h1.7v1.7h-1.7zM419.5,246.9h1.7v1.7h-1.7zM424.1,232.6h1.7v1.7h-1.7zM416.4,246.2h1.7v1.7h-1.7zM403.6,248.6h1.7v1.7h-1.7zM425.8,234.7h1.7v1.7h-1.7zM412.5,243.4h1.7v1.7h-1.7zM429.2,247.0h1.7v1.7h-1.7zM426.9,240.7h1.7v1.7h-1.7zM407.4,243.5h1.7v1.7h-1.7zM421.6,241.5h1.7v1.7h-1.7zM414.2,246.3h1.7v1.7h-1.7zM421.9,238.2h1.7v1.7h-1.7zM423.3,238.4h1.7v1.7h-1.7zM421.1,237.7h1.7v1.7h-1.7zM417.4,243.9h1.7v1.7h-1.7zM433.3,238.9h1.7v1.7h-1.7zM409.5,251.2h1.7v1.7h-1.7zM408.1,245.0h1.7v1.7h-1.7zM417.9,234.2h1.7v1.7h-1.7zM409.0,243.0h1.7v1.7h-1.7zM419.2,251.3h1.7v1.7h-1.7zM405.6,253.3h1.7v1.7h-1.7zM415.2,247.8h1.7v1.7h-1.7zM420.8,245.1h1.7v1.7h-1.7zM406.3,246.6h1.7v1.7h-1.7zM412.3,249.1h1.7v1.7h-1.7zM430.0,237.3h1.7v1.7h-1.7zM418.7,245.9h1.7v1.7h-1.7zM409.1,255.4h1.7v1.7h-1.7zM430.4,244.1h1.7v1.7h-1.7zM414.4,254.2h1.7v1.7h-1.7zM411.2,252.1h1.7v1.7h-1.7zM428.5,246.8h1.7v1.7h-1.7zM426.3,245.3h1.7v1.7h-1.7zM426.5,249.1h1.7v1.7h-1.7zM419.3,243.4h1.7v1.7h-1.7zM420.6,242.1h1.7v1.7h-1.7zM414.9,244.7h1.7v1.7h-1.7zM424.9,239.1h1.7v1.7h-1.7zM412.6,248.0h1.7v1.7h-1.7zM412.4,240.1h1.7v1.7h-1.7zM416.6,244.2h1.7v1.7h-1.7zM403.5,248.7h1.7v1.7h-1.7zM419.7,232.1h1.7v1.7h-1.7zM432.2,240.2h1.7v1.7h-1.7zM419.1,246.1h1.7v1.7h-1.7zM417.3,246.7h1.7v1.7h-1.7zM423.5,242.4h1.7v1.7h-1.7zM411.4,249.4h1.7v1.7h-1.7zM423.2,247.0h1.7v1.7h-1.7zM413.0,248.2h1.7v1.7h-1.7zM414.4,250.4h1.7v1.7h-1.7zM417.1,232.9h1.7v1.7h-1.7zM431.0,243.5h1.7v1.7h-1.7zM417.1,246.3h1.7v1.7h-1.7zM421.5,249.7h1.7v1.7h-1.7zM413.4,255.9h1.7v1.7h-1.7zM409.5,252.6h1.7v1.7h-1.7zM422.9,235.8h1.7v1.7h-1.7zM416.6,248.0h1.7v1.7h-1.7zM408.0,251.1h1.7v1.7h-1.7zM419.4,243.1h1.7v1.7h-1.7zM426.3,232.8h1.7v1.7h-1.7zM426.7,240.1h1.7v1.7h-1.7zM424.6,241.2h1.7v1.7h-1.7zM401.8,259.9h1.7v1.7h-1.7zM419.7,241.0h1.7v1.7h-1.7zM414.8,242.3h1.7v1.7h-1.7zM400.2,259.4h1.7v1.7h-1.7zM414.4,250.2h1.7v1.7h-1.7zM409.8,259.7h1.7v1.7h-1.7zM428.3,239.5h1.7v1.7h-1.7zM424.7,236.7h1.7v1.7h-1.7zM409.6,258.9h1.7v1.7h-1.7zM416.1,256.1h1.7v1.7h-1.7zM418.9,233.1h1.7v1.7h-1.7zM417.9,242.3h1.7v1.7h-1.7zM402.7,257.2h1.7v1.7h-1.7zM411.1,237.5h1.7v1.7h-1.7zM422.7,240.8h1.7v1.7h-1.7zM403.9,253.1h1.7v1.7h-1.7zM429.0,233.5h1.7v1.7h-1.7zM427.9,234.6h1.7v1.7h-1.7zM411.2,253.7h1.7v1.7h-1.7zM416.8,236.9h1.7v1.7h-1.7zM424.3,238.0h1.7v1.7h-1.7zM411.8,237.5h1.7v1.7h-1.7zM420.7,236.4h1.7v1.7h-1.7zM430.4,233.3h1.7v1.7h-1.7zM417.1,247.6h1.7v1.7h-1.7zM408.2,255.4h1.7v1.7h-1.7zM412.4,251.5h1.7v1.7h-1.7zM419.2,239.7h1.7v1.7h-1.7zM404.7,258.1h1.7v1.7h-1.7zM410.0,251.7h1.7v1.7h-1.7zM411.5,246.2h1.7v1.7h-1.7zM402.8,253.5h1.7v1.7h-1.7zM408.6,242.9h1.7v1.7h-1.7zM422.7,241.1h1.7v1.7h-1.7zM413.4,251.6h1.7v1.7h-1.7zM424.0,237.6h1.7v1.7h-1.7zM429.5,241.1h1.7v1.7h-1.7zM421.4,235.3h1.7v1.7h-1.7zM402.4,260.2h1.7v1.7h-1.7zM409.4,242.1h1.7v1.7h-1.7zM421.8,235.3h1.7v1.7h-1.7zM429.2,248.5h1.7v1.7h-1.7zM424.7,237.8h1.7v1.7h-1.7zM414.2,252.4h1.7v1.7h-1.7zM402.3,256.1h1.7v1.7h-1.7zM405.9,260.2h1.7v1.7h-1.7zM425.9,232.1h1.7v1.7h-1.7zM423.9,242.5h1.7v1.7h-1.7zM433.2,243.6h1.7v1.7h-1.7zM421.4,244.5h1.7v1.7h-1.7zM414.0,246.6h1.7v1.7h-1.7zM426.3,230.6h1.7v1.7h-1.7zM407.8,247.7h1.7v1.7h-1.7zM418.3,237.6h1.7v1.7h-1.7zM413.4,236.0h1.7v1.7h-1.7zM424.3,251.9h1.7v1.7h-1.7zM417.2,244.3h1.7v1.7h-1.7zM432.8,241.1h1.7v1.7h-1.7zM409.2,259.2h1.7v1.7h-1.7zM410.5,256.9h1.7v1.7h-1.7zM418.4,255.0h1.7v1.7h-1.7zM404.4,251.8h1.7v1.7h-1.7zM420.3,244.8h1.7v1.7h-1.7zM405.4,253.0h1.7v1.7h-1.7zM410.2,245.1h1.7v1.7h-1.7zM414.2,235.6h1.7v1.7h-1.7zM422.3,237.7h1.7v1.7h-1.7zM429.2,239.2h1.7v1.7h-1.7zM405.0,250.8h1.7v1.7h-1.7zM404.4,255.8h1.7v1.7h-1.7zM428.7,240.0h1.7v1.7h-1.7zM411.8,247.9h1.7v1.7h-1.7zM411.8,257.4h1.7v1.7h-1.7zM419.1,250.5h1.7v1.7h-1.7zM416.4,246.1h1.7v1.7h-1.7zM419.7,231.9h1.7v1.7h-1.7zM423.6,234.7h1.7v1.7h-1.7zM414.4,235.6h1.7v1.7h-1.7zM427.3,243.6h1.7v1.7h-1.7zM408.6,251.6h1.7v1.7h-1.7zM417.2,243.5h1.7v1.7h-1.7zM410.7,244.1h1.7v1.7h-1.7zM431.6,234.7h1.7v1.7h-1.7zM409.1,244.2h1.7v1.7h-1.7zM419.0,241.0h1.7v1.7h-1.7zM410.1,244.8h1.7v1.7h-1.7zM428.2,231.2h1.7v1.7h-1.7zM423.2,249.9h1.7v1.7h-1.7zM409.1,248.6h1.7v1.7h-1.7zM433.4,245.5h1.7v1.7h-1.7zM422.1,239.3h1.7v1.7h-1.7zM410.9,259.2h1.7v1.7h-1.7zM423.3,244.4h1.7v1.7h-1.7zM411.9,248.9h1.7v1.7h-1.7zM413.6,247.2h1.7v1.7h-1.7zM419.0,242.6h1.7v1.7h-1.7zM402.3,258.5h1.7v1.7h-1.7zM417.8,237.7h1.7v1.7h-1.7zM416.3,248.0h1.7v1.7h-1.7zM406.5,248.6h1.7v1.7h-1.7zM419.9,231.9h1.7v1.7h-1.7zM418.5,253.4h1.7v1.7h-1.7zM426.2,233.0h1.7v1.7h-1.7zM401.9,257.4h1.7v1.7h-1.7zM426.8,233.8h1.7v1.7h-1.7zM426.9,231.1h1.7v1.7h-1.7zM424.3,243.6h1.7v1.7h-1.7zM404.4,254.5h1.7v1.7h-1.7zM410.8,255.1h1.7v1.7h-1.7zM424.9,230.6h1.7v1.7h-1.7zM420.5,232.5h1.7v1.7h-1.7zM402.3,260.6h1.7v1.7h-1.7zM423.1,237.8h1.7v1.7h-1.7zM429.2,248.9h1.7v1.7h-1.7z" fill="#2c5fb2"/>
<path d="M408.0,235.2h1.7v1.7h-1.7zM410.6,230.2h1.7v1.7h-1.7zM414.3,232.9h1.7v1.7h-1.7zM434.8,229.9h1.7v1.7h-1.7zM432.2,219.9h1.7v1.7h-1.7zM410.5,235.5h1.7v1.7h-1.7zM427.9,227.0h1.7v1.7h-1.7zM420.8,222.3h1.7v1.7h-1.7zM433.7,227.0h1.7v1.7h-1.7zM434.7,231.4h1.7v1.7h-1.7zM420.5,230.7h1.7v1.7h-1.7zM417.7,226.2h1.7v1.7h-1.7zM427.6,224.6h1.7v1.7h-1.7zM413.7,229.2h1.7v1.7h-1.7zM413.3,230.5h1.7v1.7h-1.7zM416.9,224.8h1.7v1.7h-1.7zM430.0,229.3h1.7v1.7h-1.7zM426.4,226.2h1.7v1.7h-1.7zM423.4,227.3h1.7v1.7h-1.7zM421.0,226.5h1.7v1.7h-1.7zM420.0,228.1h1.7v1.7h-1.7zM424.1,225.2h1.7v1.7h-1.7zM414.7,225.3h1.7v1.7h-1.7zM429.6,230.2h1.7v1.7h-1.7zM437.0,226.0h1.7v1.7h-1.7zM436.4,230.8h1.7v1.7h-1.7zM435.6,224.7h1.7v1.7h-1.7zM428.8,223.5h1.7v1.7h-1.7zM418.1,223.2h1.7v1.7h-1.7zM426.8,223.1h1.7v1.7h-1.7zM425.2,220.7h1.7v1.7h-1.7zM410.7,229.9h1.7v1.7h-1.7zM434.8,231.9h1.7v1.7h-1.7zM436.5,223.4h1.7v1.7h-1.7zM426.9,227.3h1.7v1.7h-1.7zM427.9,225.9h1.7v1.7h-1.7zM415.9,229.0h1.7v1.7h-1.7zM425.1,224.3h1.7v1.7h-1.7zM436.5,230.4h1.7v1.7h-1.7zM438.7,220.3h1.7v1.7h-1.7zM431.0,220.9h1.7v1.7h-1.7zM432.6,227.6h1.7v1.7h-1.7zM425.2,225.8h1.7v1.7h-1.7zM430.1,224.3h1.7v1.7h-1.7zM431.3,225.3h1.7v1.7h-1.7zM420.0,224.7h1.7v1.7h-1.7zM431.2,226.4h1.7v1.7h-1.7zM438.8,223.7h1.7v1.7h-1.7zM430.6,220.9h1.7v1.7h-1.7zM423.6,222.8h1.7v1.7h-1.7zM437.0,226.5h1.7v1.7h-1.7zM431.4,224.0h1.7v1.7h-1.7zM438.5,229.1h1.7v1.7h-1.7zM426.4,226.0h1.7v1.7h-1.7zM432.2,228.4h1.7v1.7h-1.7zM407.9,233.8h1.7v1.7h-1.7zM437.2,231.7h1.7v1.7h-1.7zM413.3,227.8h1.7v1.7h-1.7zM430.7,232.0h1.7v1.7h-1.7zM411.7,230.5h1.7v1.7h-1.7z" fill="#2c5fb2"/>
<path d="M398.2,259.3h1.7v1.7h-1.7zM399.8,244.4h1.7v1.7h-1.7zM398.3,254.3h1.7v1.7h-1.7zM403.9,247.8h1.7v1.7h-1.7zM398.9,259.9h1.7v1.7h-1.7zM407.4,240.3h1.7v1.7h-1.7zM397.6,262.4h1.7v1.7h-1.7zM396.3,260.7h1.7v1.7h-1.7zM398.1,255.8h1.7v1.7h-1.7zM405.0,237.7h1.7v1.7h-1.7z" fill="#2c5fb2"/>
<path d="M438.0,220.2h1.7v1.7h-1.7zM448.5,222.2h1.7v1.7h-1.7zM453.8,228.0h1.7v1.7h-1.7zM447.1,230.8h1.7v1.7h-1.7zM455.8,234.2h1.7v1.7h-1.7zM450.0,235.8h1.7v1.7h-1.7zM446.1,234.2h1.7v1.7h-1.7zM443.3,236.6h1.7v1.7h-1.7zM440.9,234.2h1.7v1.7h-1.7zM438.5,233.3h1.7v1.7h-1.7zM444.8,239.5h1.7v1.7h-1.7zM450.9,240.0h1.7v1.7h-1.7zM424.8,221.3h1.7v1.7h-1.7zM430.5,221.8h1.7v1.7h-1.7zM468.6,212.0h1.7v1.7h-1.7zM471.1,237.2h1.7v1.7h-1.7zM493.1,236.5h1.7v1.7h-1.7zM486.4,240.8h1.7v1.7h-1.7zM488.8,241.2h1.7v1.7h-1.7zM485.0,243.7h1.7v1.7h-1.7zM495.1,243.7h1.7v1.7h-1.7zM490.8,247.5h1.7v1.7h-1.7zM469.6,242.7h1.7v1.7h-1.7zM471.6,243.2h1.7v1.7h-1.7zM467.8,245.6h1.7v1.7h-1.7zM465.8,248.5h1.7v1.7h-1.7zM463.4,249.3h1.7v1.7h-1.7zM470.1,249.8h1.7v1.7h-1.7zM468.8,251.8h1.7v1.7h-1.7zM466.3,254.7h1.7v1.7h-1.7zM470.6,254.7h1.7v1.7h-1.7zM474.4,253.2h1.7v1.7h-1.7zM476.8,254.2h1.7v1.7h-1.7zM474.0,256.5h1.7v1.7h-1.7zM477.3,256.5h1.7v1.7h-1.7zM482.1,256.5h1.7v1.7h-1.7zM486.9,252.8h1.7v1.7h-1.7zM485.9,255.5h1.7v1.7h-1.7zM468.8,259.4h1.7v1.7h-1.7zM479.8,259.9h1.7v1.7h-1.7zM462.9,258.4h1.7v1.7h-1.7zM460.1,253.2h1.7v1.7h-1.7zM460.5,246.5h1.7v1.7h-1.7zM465.1,263.1h1.7v1.7h-1.7zM469.1,265.1h1.7v1.7h-1.7zM473.1,261.1h1.7v1.7h-1.7zM462.1,267.1h1.7v1.7h-1.7zM467.1,269.1h1.7v1.7h-1.7z" fill="#2c5fb2"/>
<path d="M446.0,268.4h1.7v1.7h-1.7zM458.1,267.1h1.7v1.7h-1.7zM442.7,264.1h1.7v1.7h-1.7zM451.3,245.0h1.7v1.7h-1.7zM448.9,240.7h1.7v1.7h-1.7zM445.3,267.0h1.7v1.7h-1.7zM439.0,253.7h1.7v1.7h-1.7zM439.5,251.7h1.7v1.7h-1.7zM440.9,260.5h1.7v1.7h-1.7zM439.9,262.2h1.7v1.7h-1.7zM451.2,241.0h1.7v1.7h-1.7zM446.5,254.0h1.7v1.7h-1.7zM464.5,249.0h1.7v1.7h-1.7zM463.4,262.0h1.7v1.7h-1.7zM443.9,243.2h1.7v1.7h-1.7zM443.6,239.5h1.7v1.7h-1.7zM436.5,254.4h1.7v1.7h-1.7zM448.2,256.1h1.7v1.7h-1.7zM446.8,237.5h1.7v1.7h-1.7zM457.2,259.4h1.7v1.7h-1.7zM452.6,255.8h1.7v1.7h-1.7zM457.2,270.6h1.7v1.7h-1.7zM463.1,261.6h1.7v1.7h-1.7zM447.9,248.0h1.7v1.7h-1.7zM448.6,270.2h1.7v1.7h-1.7zM447.5,250.3h1.7v1.7h-1.7zM448.3,242.0h1.7v1.7h-1.7zM454.6,268.6h1.7v1.7h-1.7zM443.3,257.9h1.7v1.7h-1.7zM447.2,245.3h1.7v1.7h-1.7zM441.5,241.1h1.7v1.7h-1.7zM462.1,263.8h1.7v1.7h-1.7zM457.4,248.2h1.7v1.7h-1.7zM455.8,255.8h1.7v1.7h-1.7zM445.2,270.2h1.7v1.7h-1.7zM462.5,254.5h1.7v1.7h-1.7zM454.1,271.0h1.7v1.7h-1.7zM442.7,258.6h1.7v1.7h-1.7zM458.9,250.0h1.7v1.7h-1.7zM457.9,250.5h1.7v1.7h-1.7zM452.0,258.0h1.7v1.7h-1.7zM456.8,248.1h1.7v1.7h-1.7zM455.3,255.6h1.7v1.7h-1.7zM442.3,258.0h1.7v1.7h-1.7zM443.6,268.0h1.7v1.7h-1.7zM450.3,261.7h1.7v1.7h-1.7zM451.9,253.4h1.7v1.7h-1.7zM442.2,242.0h1.7v1.7h-1.7zM464.8,255.1h1.7v1.7h-1.7zM451.9,255.1h1.7v1.7h-1.7zM461.2,245.3h1.7v1.7h-1.7zM440.7,265.1h1.7v1.7h-1.7zM449.9,258.9h1.7v1.7h-1.7zM461.6,267.5h1.7v1.7h-1.7zM447.4,265.4h1.7v1.7h-1.7zM440.1,245.7h1.7v1.7h-1.7zM438.4,249.3h1.7v1.7h-1.7zM460.9,254.9h1.7v1.7h-1.7zM449.6,240.1h1.7v1.7h-1.7zM447.8,271.0h1.7v1.7h-1.7zM457.4,252.4h1.7v1.7h-1.7zM450.5,264.3h1.7v1.7h-1.7zM459.4,242.2h1.7v1.7h-1.7zM456.9,249.6h1.7v1.7h-1.7zM451.8,245.2h1.7v1.7h-1.7zM447.0,248.7h1.7v1.7h-1.7zM447.3,237.8h1.7v1.7h-1.7zM441.6,256.5h1.7v1.7h-1.7zM437.0,243.2h1.7v1.7h-1.7zM458.1,246.5h1.7v1.7h-1.7zM445.5,245.4h1.7v1.7h-1.7zM455.5,266.4h1.7v1.7h-1.7zM441.6,251.5h1.7v1.7h-1.7zM460.5,258.2h1.7v1.7h-1.7zM447.0,238.6h1.7v1.7h-1.7zM449.3,249.6h1.7v1.7h-1.7zM458.0,247.2h1.7v1.7h-1.7zM448.2,259.2h1.7v1.7h-1.7zM461.1,249.1h1.7v1.7h-1.7zM447.5,256.8h1.7v1.7h-1.7zM466.2,261.4h1.7v1.7h-1.7zM447.1,259.8h1.7v1.7h-1.7zM445.7,239.6h1.7v1.7h-1.7zM459.3,250.0h1.7v1.7h-1.7zM452.0,254.0h1.7v1.7h-1.7zM464.0,262.9h1.7v1.7h-1.7zM436.0,257.3h1.7v1.7h-1.7zM450.0,252.9h1.7v1.7h-1.7zM462.0,251.3h1.7v1.7h-1.7zM450.3,267.4h1.7v1.7h-1.7zM449.2,253.9h1.7v1.7h-1.7zM451.5,265.2h1.7v1.7h-1.7zM456.6,262.3h1.7v1.7h-1.7zM448.0,238.5h1.7v1.7h-1.7zM456.9,256.0h1.7v1.7h-1.7zM459.8,263.3h1.7v1.7h-1.7zM438.9,244.7h1.7v1.7h-1.7zM438.4,240.2h1.7v1.7h-1.7zM459.3,256.3h1.7v1.7h-1.7zM436.9,260.3h1.7v1.7h-1.7zM457.9,253.6h1.7v1.7h-1.7zM436.9,260.6h1.7v1.7h-1.7zM448.5,257.0h1.7v1.7h-1.7zM445.8,254.8h1.7v1.7h-1.7zM443.9,246.1h1.7v1.7h-1.7zM445.2,245.8h1.7v1.7h-1.7zM462.6,256.0h1.7v1.7h-1.7zM451.5,251.4h1.7v1.7h-1.7zM436.8,247.5h1.7v1.7h-1.7zM462.9,264.4h1.7v1.7h-1.7zM462.6,245.9h1.7v1.7h-1.7zM441.6,238.9h1.7v1.7h-1.7zM452.3,249.9h1.7v1.7h-1.7zM450.0,253.8h1.7v1.7h-1.7zM453.8,249.6h1.7v1.7h-1.7zM460.8,244.0h1.7v1.7h-1.7zM464.6,256.1h1.7v1.7h-1.7zM436.8,247.8h1.7v1.7h-1.7zM452.2,251.1h1.7v1.7h-1.7zM453.2,248.2h1.7v1.7h-1.7zM443.9,264.2h1.7v1.7h-1.7zM444.5,261.3h1.7v1.7h-1.7zM460.8,257.3h1.7v1.7h-1.7zM449.7,268.9h1.7v1.7h-1.7zM449.4,267.0h1.7v1.7h-1.7zM437.0,251.9h1.7v1.7h-1.7zM454.2,243.3h1.7v1.7h-1.7zM464.7,256.2h1.7v1.7h-1.7zM460.8,254.1h1.7v1.7h-1.7zM456.7,260.1h1.7v1.7h-1.7zM444.6,244.3h1.7v1.7h-1.7zM438.4,240.4h1.7v1.7h-1.7zM460.2,269.5h1.7v1.7h-1.7zM448.4,259.6h1.7v1.7h-1.7zM443.4,267.9h1.7v1.7h-1.7zM457.1,242.4h1.7v1.7h-1.7zM437.0,260.8h1.7v1.7h-1.7zM444.5,245.1h1.7v1.7h-1.7zM453.8,248.0h1.7v1.7h-1.7zM453.1,242.4h1.7v1.7h-1.7zM464.3,248.2h1.7v1.7h-1.7zM460.7,270.5h1.7v1.7h-1.7zM447.7,238.3h1.7v1.7h-1.7zM447.3,258.9h1.7v1.7h-1.7zM442.3,255.7h1.7v1.7h-1.7zM438.1,252.9h1.7v1.7h-1.7zM458.5,251.8h1.7v1.7h-1.7zM456.9,241.0h1.7v1.7h-1.7zM465.2,255.0h1.7v1.7h-1.7zM444.5,249.0h1.7v1.7h-1.7z" fill="#2c5fb2"/>
<path d="M450.4,262.6h1.7v1.7h-1.7zM441.1,268.8h1.7v1.7h-1.7zM445.1,263.3h1.7v1.7h-1.7zM453.7,258.0h1.7v1.7h-1.7zM445.1,270.6h1.7v1.7h-1.7zM447.1,255.0h1.7v1.7h-1.7zM435.8,261.8h1.7v1.7h-1.7zM432.8,266.8h1.7v1.7h-1.7zM430.4,267.5h1.7v1.7h-1.7zM443.7,255.8h1.7v1.7h-1.7zM443.5,267.5h1.7v1.7h-1.7zM445.0,262.0h1.7v1.7h-1.7zM427.6,265.1h1.7v1.7h-1.7zM428.8,264.0h1.7v1.7h-1.7zM436.5,260.5h1.7v1.7h-1.7zM447.4,256.9h1.7v1.7h-1.7zM435.8,268.5h1.7v1.7h-1.7zM454.7,262.3h1.7v1.7h-1.7zM441.5,263.3h1.7v1.7h-1.7zM428.3,262.1h1.7v1.7h-1.7zM429.9,263.3h1.7v1.7h-1.7zM441.9,260.4h1.7v1.7h-1.7zM431.1,261.0h1.7v1.7h-1.7zM441.7,269.3h1.7v1.7h-1.7zM441.2,267.6h1.7v1.7h-1.7zM444.1,265.9h1.7v1.7h-1.7zM432.2,266.9h1.7v1.7h-1.7zM442.3,259.1h1.7v1.7h-1.7zM444.4,258.1h1.7v1.7h-1.7zM445.0,267.5h1.7v1.7h-1.7zM449.0,255.2h1.7v1.7h-1.7zM432.8,264.3h1.7v1.7h-1.7zM445.8,265.9h1.7v1.7h-1.7zM452.7,260.0h1.7v1.7h-1.7zM452.5,262.0h1.7v1.7h-1.7zM457.1,261.2h1.7v1.7h-1.7zM438.4,255.6h1.7v1.7h-1.7zM432.7,266.6h1.7v1.7h-1.7zM447.9,256.7h1.7v1.7h-1.7zM436.2,256.5h1.7v1.7h-1.7zM440.9,262.6h1.7v1.7h-1.7zM451.4,269.6h1.7v1.7h-1.7zM450.5,265.0h1.7v1.7h-1.7zM431.1,264.8h1.7v1.7h-1.7zM453.8,267.5h1.7v1.7h-1.7zM427.4,266.3h1.7v1.7h-1.7zM436.4,256.9h1.7v1.7h-1.7zM458.0,265.6h1.7v1.7h-1.7zM450.2,256.4h1.7v1.7h-1.7zM453.1,270.1h1.7v1.7h-1.7zM455.8,266.8h1.7v1.7h-1.7zM453.3,267.8h1.7v1.7h-1.7zM444.8,261.6h1.7v1.7h-1.7zM453.0,267.5h1.7v1.7h-1.7zM454.6,259.2h1.7v1.7h-1.7zM457.8,263.2h1.7v1.7h-1.7zM458.0,267.5h1.7v1.7h-1.7zM433.0,268.4h1.7v1.7h-1.7zM432.3,257.5h1.7v1.7h-1.7zM440.2,258.2h1.7v1.7h-1.7zM441.4,269.6h1.7v1.7h-1.7zM448.1,266.2h1.7v1.7h-1.7zM437.9,267.5h1.7v1.7h-1.7zM451.9,265.8h1.7v1.7h-1.7zM457.1,268.2h1.7v1.7h-1.7zM438.4,255.6h1.7v1.7h-1.7zM447.0,268.4h1.7v1.7h-1.7zM436.0,264.3h1.7v1.7h-1.7zM453.4,267.6h1.7v1.7h-1.7zM452.6,261.3h1.7v1.7h-1.7z" fill="#2c5fb2"/>
<path d="M424.1,261.2h1.7v1.7h-1.7zM417.1,265.4h1.7v1.7h-1.7zM424.5,259.4h1.7v1.7h-1.7zM426.8,261.0h1.7v1.7h-1.7zM425.7,265.0h1.7v1.7h-1.7zM410.5,263.7h1.7v1.7h-1.7zM434.0,260.1h1.7v1.7h-1.7zM424.2,266.0h1.7v1.7h-1.7zM418.2,261.6h1.7v1.7h-1.7zM433.9,261.7h1.7v1.7h-1.7zM430.4,257.9h1.7v1.7h-1.7zM419.9,265.1h1.7v1.7h-1.7z" fill="#2c5fb2"/>
<path d="M404.0,267.8 L412.0,267.2 L418.0,267.8 L424.0,270.3 L438.0,272.8 L450.0,274.0 L459.0,274.2 L459.0,281.0 L450.0,280.0 L438.0,276.5 L424.0,274.2 L413.0,272.0 L405.0,270.6Z" fill="#aa5caa" />
<path d="M431.4,272.8h4.0M433.4,270.8v4.0M432.0,271.4l2.9,2.9M432.0,274.3l2.9,-2.9M414.0,268.7h4.0M416.0,266.7v4.0M414.6,267.2l2.9,2.9M414.6,270.1l2.9,-2.9M416.6,272.1h4.0M418.6,270.1v4.0M417.2,270.6l2.9,2.9M417.2,273.5l2.9,-2.9M446.5,275.4h4.0M448.5,273.4v4.0M447.0,273.9l2.9,2.9M447.0,276.8l2.9,-2.9M412.9,271.2h4.0M414.9,269.2v4.0M413.5,269.7l2.9,2.9M413.5,272.6l2.9,-2.9M411.0,268.5h4.0M413.0,266.5v4.0M411.6,267.0l2.9,2.9M411.6,269.9l2.9,-2.9M454.7,275.7h4.0M456.7,273.7v4.0M455.3,274.3l2.9,2.9M455.3,277.1l2.9,-2.9M444.7,274.9h4.0M446.7,272.9v4.0M445.3,273.4l2.9,2.9M445.3,276.3l2.9,-2.9M443.8,277.9h4.0M445.8,275.9v4.0M444.4,276.5l2.9,2.9M444.4,279.3l2.9,-2.9M456.7,279.8h4.0M458.7,277.8v4.0M457.3,278.3l2.9,2.9M457.3,281.2l2.9,-2.9M411.3,271.0h4.0M413.3,269.0v4.0M411.9,269.6l2.9,2.9M411.9,272.5l2.9,-2.9M444.9,275.3h4.0M446.9,273.3v4.0M445.5,273.8l2.9,2.9M445.5,276.7l2.9,-2.9M409.0,268.7h4.0M411.0,266.7v4.0M409.5,267.2l2.9,2.9M409.5,270.1l2.9,-2.9M437.9,275.9h4.0M439.9,273.9v4.0M438.5,274.5l2.9,2.9M438.5,277.4l2.9,-2.9M455.2,275.5h4.0M457.2,273.5v4.0M455.7,274.0l2.9,2.9M455.7,276.9l2.9,-2.9M413.3,271.2h4.0M415.3,269.2v4.0M413.8,269.7l2.9,2.9M413.8,272.6l2.9,-2.9M429.8,275.0h4.0M431.8,273.0v4.0M430.4,273.6l2.9,2.9M430.4,276.5l2.9,-2.9M440.4,273.8h4.0M442.4,271.8v4.0M441.0,272.4l2.9,2.9M441.0,275.2l2.9,-2.9M405.9,269.6h4.0M407.9,267.6v4.0M406.5,268.2l2.9,2.9M406.5,271.1l2.9,-2.9M418.7,270.1h4.0M420.7,268.1v4.0M419.3,268.7l2.9,2.9M419.3,271.6l2.9,-2.9M450.1,279.8h4.0M452.1,277.8v4.0M450.7,278.3l2.9,2.9M450.7,281.2l2.9,-2.9M448.5,275.3h4.0M450.5,273.3v4.0M449.0,273.9l2.9,2.9M449.0,276.7l2.9,-2.9M442.7,277.7h4.0M444.7,275.7v4.0M443.3,276.2l2.9,2.9M443.3,279.1l2.9,-2.9M428.4,274.5h4.0M430.4,272.5v4.0M429.0,273.1l2.9,2.9M429.0,275.9l2.9,-2.9M454.1,279.8h4.0M456.1,277.8v4.0M454.6,278.3l2.9,2.9M454.6,281.2l2.9,-2.9M404.0,269.9h4.0M406.0,267.9v4.0M404.6,268.4l2.9,2.9M404.6,271.3l2.9,-2.9M423.4,273.2h4.0M425.4,271.2v4.0M424.0,271.8l2.9,2.9M424.0,274.6l2.9,-2.9M446.9,275.5h4.0M448.9,273.5v4.0M447.5,274.0l2.9,2.9M447.5,276.9l2.9,-2.9M434.8,275.0h4.0M436.8,273.0v4.0M435.3,273.6l2.9,2.9M435.3,276.5l2.9,-2.9M434.6,273.2h4.0M436.6,271.2v4.0M435.2,271.7l2.9,2.9M435.2,274.6l2.9,-2.9M450.4,278.9h4.0M452.4,276.9v4.0M451.0,277.4l2.9,2.9M451.0,280.3l2.9,-2.9M424.7,273.8h4.0M426.7,271.8v4.0M425.2,272.4l2.9,2.9M425.2,275.3l2.9,-2.9M418.2,269.8h4.0M420.2,267.8v4.0M418.8,268.4l2.9,2.9M418.8,271.3l2.9,-2.9M414.7,272.1h4.0M416.7,270.1v4.0M415.3,270.7l2.9,2.9M415.3,273.6l2.9,-2.9M431.2,275.1h4.0M433.2,273.1v4.0M431.8,273.7l2.9,2.9M431.8,276.5l2.9,-2.9M438.8,273.5h4.0M440.8,271.5v4.0M439.4,272.1l2.9,2.9M439.4,275.0l2.9,-2.9M437.1,273.8h4.0M439.1,271.8v4.0M437.6,272.3l2.9,2.9M437.6,275.2l2.9,-2.9M404.3,269.2h4.0M406.3,267.2v4.0M404.8,267.8l2.9,2.9M404.8,270.7l2.9,-2.9M423.9,271.4h4.0M425.9,269.4v4.0M424.4,270.0l2.9,2.9M424.4,272.9l2.9,-2.9M406.9,270.6h4.0M408.9,268.6v4.0M407.4,269.2l2.9,2.9M407.4,272.1l2.9,-2.9" stroke="#aa5caa" stroke-width="1.0" fill="none"/>
<path d="M396.5,267.0 L399.0,264.5 L408.0,260.0 L415.0,254.0 L420.0,249.5 L427.0,245.5 L433.0,244.0 L436.0,246.5 L434.0,252.0 L428.0,256.0 L420.0,259.5 L410.0,263.5 L400.0,267.5Z" fill="#2c5fb2" />
<path d="M420.2,248.9h1.6v1.6h-1.6zM404.4,261.1h1.6v1.6h-1.6zM426.2,245.4h1.6v1.6h-1.6zM399.2,266.3h1.6v1.6h-1.6zM412.5,256.6h1.6v1.6h-1.6zM431.3,244.8h1.6v1.6h-1.6zM426.9,253.9h1.6v1.6h-1.6zM419.5,248.8h1.6v1.6h-1.6zM417.0,258.8h1.6v1.6h-1.6zM432.4,250.2h1.6v1.6h-1.6zM417.5,258.9h1.6v1.6h-1.6zM424.1,247.6h1.6v1.6h-1.6zM434.0,247.8h1.6v1.6h-1.6zM427.9,254.2h1.6v1.6h-1.6zM416.0,259.9h1.6v1.6h-1.6zM410.8,261.1h1.6v1.6h-1.6zM423.3,248.1h1.6v1.6h-1.6zM416.2,252.0h1.6v1.6h-1.6zM401.3,263.1h1.6v1.6h-1.6zM417.1,258.4h1.6v1.6h-1.6zM427.9,245.6h1.6v1.6h-1.6zM404.7,261.0h1.6v1.6h-1.6zM426.4,253.9h1.6v1.6h-1.6zM427.3,253.8h1.6v1.6h-1.6zM415.5,259.5h1.6v1.6h-1.6zM400.7,264.8h1.6v1.6h-1.6zM421.9,247.9h1.6v1.6h-1.6zM412.8,260.7h1.6v1.6h-1.6zM411.1,257.7h1.6v1.6h-1.6zM433.5,247.9h1.6v1.6h-1.6zM424.3,254.9h1.6v1.6h-1.6zM406.6,260.1h1.6v1.6h-1.6zM400.9,263.1h1.6v1.6h-1.6zM434.2,246.6h1.6v1.6h-1.6zM424.6,255.3h1.6v1.6h-1.6zM427.0,245.5h1.6v1.6h-1.6zM417.4,252.1h1.6v1.6h-1.6zM414.0,259.3h1.6v1.6h-1.6zM408.4,259.6h1.6v1.6h-1.6zM417.2,258.6h1.6v1.6h-1.6zM404.3,263.1h1.6v1.6h-1.6zM418.0,257.8h1.6v1.6h-1.6zM426.1,254.2h1.6v1.6h-1.6zM406.6,260.7h1.6v1.6h-1.6zM421.5,256.6h1.6v1.6h-1.6zM416.6,251.1h1.6v1.6h-1.6zM429.5,252.0h1.6v1.6h-1.6zM416.7,251.4h1.6v1.6h-1.6zM413.0,254.4h1.6v1.6h-1.6zM423.7,255.0h1.6v1.6h-1.6zM413.1,260.5h1.6v1.6h-1.6zM422.2,257.3h1.6v1.6h-1.6zM409.9,261.9h1.6v1.6h-1.6zM396.6,266.7h1.6v1.6h-1.6zM407.0,259.8h1.6v1.6h-1.6zM400.4,263.4h1.6v1.6h-1.6zM432.4,249.8h1.6v1.6h-1.6zM399.0,264.8h1.6v1.6h-1.6zM404.5,260.9h1.6v1.6h-1.6zM427.9,254.1h1.6v1.6h-1.6zM421.2,248.6h1.6v1.6h-1.6zM413.3,255.6h1.6v1.6h-1.6zM412.8,256.2h1.6v1.6h-1.6zM412.4,260.5h1.6v1.6h-1.6zM398.6,265.0h1.6v1.6h-1.6zM398.2,264.9h1.6v1.6h-1.6zM428.6,244.2h1.6v1.6h-1.6zM427.5,253.6h1.6v1.6h-1.6zM431.4,251.6h1.6v1.6h-1.6zM434.1,246.1h1.6v1.6h-1.6z" fill="#2c5fb2"/>
<path d="M421.1,250.8h1.6v1.6h-1.6zM424.2,250.6h1.6v1.6h-1.6zM424.0,249.2h1.6v1.6h-1.6zM424.1,248.4h1.6v1.6h-1.6z" fill="#fff" opacity="1"/>
<path d="M397.0,267.0 L405.0,270.5 L413.0,272.5 L424.0,274.5 L438.0,276.2 L450.0,276.8 L457.5,276.5 L458.5,286.0 L450.0,282.0 L438.0,279.0 L420.0,275.8 L410.0,273.0 L397.0,268.8Z" fill="#2c5fb2" />
<path d="M456.7,279.5h1.6v1.6h-1.6zM455.8,276.3h1.6v1.6h-1.6zM433.3,276.7h1.6v1.6h-1.6zM441.8,276.1h1.6v1.6h-1.6zM450.2,276.5h1.6v1.6h-1.6zM421.5,274.4h1.6v1.6h-1.6zM456.9,284.8h1.6v1.6h-1.6zM422.0,274.5h1.6v1.6h-1.6zM422.0,274.0h1.6v1.6h-1.6zM453.1,281.9h1.6v1.6h-1.6zM398.3,267.6h1.6v1.6h-1.6zM401.6,268.5h1.6v1.6h-1.6zM431.4,276.1h1.6v1.6h-1.6zM403.9,270.1h1.6v1.6h-1.6zM397.4,268.0h1.6v1.6h-1.6zM431.5,276.2h1.6v1.6h-1.6zM431.1,275.3h1.6v1.6h-1.6zM417.4,273.6h1.6v1.6h-1.6zM396.8,267.4h1.6v1.6h-1.6zM401.6,269.1h1.6v1.6h-1.6zM443.6,276.9h1.6v1.6h-1.6zM420.3,274.4h1.6v1.6h-1.6zM409.2,271.4h1.6v1.6h-1.6zM416.1,273.5h1.6v1.6h-1.6zM455.7,278.7h1.6v1.6h-1.6zM406.4,270.1h1.6v1.6h-1.6zM456.0,279.4h1.6v1.6h-1.6zM412.7,272.2h1.6v1.6h-1.6zM452.6,281.9h1.6v1.6h-1.6zM423.7,274.3h1.6v1.6h-1.6zM398.4,268.5h1.6v1.6h-1.6zM433.1,276.2h1.6v1.6h-1.6zM397.3,267.6h1.6v1.6h-1.6zM430.0,276.2h1.6v1.6h-1.6zM419.5,273.9h1.6v1.6h-1.6zM413.5,272.3h1.6v1.6h-1.6zM424.3,274.7h1.6v1.6h-1.6zM446.9,276.2h1.6v1.6h-1.6zM417.0,273.3h1.6v1.6h-1.6zM456.6,277.6h1.6v1.6h-1.6zM409.2,271.3h1.6v1.6h-1.6zM405.0,270.5h1.6v1.6h-1.6zM444.7,278.8h1.6v1.6h-1.6zM456.3,280.5h1.6v1.6h-1.6zM423.2,274.2h1.6v1.6h-1.6zM407.0,270.8h1.6v1.6h-1.6zM409.4,271.9h1.6v1.6h-1.6zM412.5,272.3h1.6v1.6h-1.6zM455.9,276.6h1.6v1.6h-1.6zM443.0,278.6h1.6v1.6h-1.6z" fill="#2c5fb2"/>
<path d="M459.5,274.5 L463.0,274.0 L466.0,276.5 L466.5,281.0 L464.0,283.5 L460.0,283.5 L459.0,279.0Z" fill="#aa5caa" />
<path d="M463.9,281.1h3.6M465.7,279.3v3.6M464.4,279.8l2.6,2.6M464.4,282.4l2.6,-2.6M458.4,282.2h3.6M460.2,280.4v3.6M458.9,280.9l2.6,2.6M458.9,283.5l2.6,-2.6M463.1,281.6h3.6M464.9,279.8v3.6M463.6,280.3l2.6,2.6M463.6,282.9l2.6,-2.6M458.4,282.5h3.6M460.2,280.7v3.6M458.9,281.2l2.6,2.6M458.9,283.8l2.6,-2.6M463.2,276.8h3.6M465.0,275.0v3.6M463.7,275.5l2.6,2.6M463.7,278.1l2.6,-2.6M458.9,283.0h3.6M460.7,281.2v3.6M459.4,281.7l2.6,2.6M459.4,284.3l2.6,-2.6M460.9,275.2h3.6M462.7,273.4v3.6M461.4,273.9l2.6,2.6M461.4,276.5l2.6,-2.6M460.5,283.0h3.6M462.3,281.2v3.6M461.0,281.8l2.6,2.6M461.0,284.3l2.6,-2.6M463.0,277.0h3.6M464.8,275.2v3.6M463.5,275.7l2.6,2.6M463.5,278.3l2.6,-2.6M463.1,276.5h3.6M464.9,274.7v3.6M463.6,275.2l2.6,2.6M463.6,277.8l2.6,-2.6M458.6,280.3h3.6M460.4,278.5v3.6M459.1,279.0l2.6,2.6M459.1,281.6l2.6,-2.6M459.5,282.5h3.6M461.3,280.7v3.6M460.1,281.2l2.6,2.6M460.1,283.8l2.6,-2.6M458.9,274.8h3.6M460.7,273.0v3.6M459.4,273.5l2.6,2.6M459.4,276.1l2.6,-2.6M458.7,275.3h3.6M460.5,273.5v3.6M459.2,274.0l2.6,2.6M459.2,276.6l2.6,-2.6" stroke="#aa5caa" stroke-width="1.0" fill="none"/>
<path d="M457.8,250 V287" stroke="#2c5fb2" stroke-width="1.7" fill="none"/>
<path d="M217.8,22.4V67.0L275.2,88.0L351.0,72.2" stroke="#1a1a1a" stroke-width="1.3" fill="none" stroke-linejoin="miter"/>
<path d="M217.8,28.0h-1.6M217.8,40.8h-1.6M217.8,53.5h-1.6" stroke="#1a1a1a" stroke-width="0.8"/>
<text x="216.4" y="31.1" font-size="9" text-anchor="end" fill="#262626" font-weight="bold" font-style="normal" >0.6</text>
<text x="216.4" y="43.9" font-size="9" text-anchor="end" fill="#262626" font-weight="bold" font-style="normal" >0.4</text>
<text x="216.4" y="56.6" font-size="9" text-anchor="end" fill="#262626" font-weight="bold" font-style="normal" >0.2</text>
<text x="211.5" y="69.8" font-size="9" text-anchor="middle" fill="#262626" font-weight="bold" font-style="normal" >0</text>
<text x="216.8" y="77.1" font-size="9" text-anchor="middle" fill="#262626" font-weight="bold" font-style="normal" >60</text>
<text x="234.4" y="84.1" font-size="9" text-anchor="middle" fill="#262626" font-weight="bold" font-style="normal" >40</text>
<text x="252.3" y="89.9" font-size="9" text-anchor="middle" fill="#262626" font-weight="bold" font-style="normal" >20</text>
<text x="271.6" y="96.3" font-size="9" text-anchor="middle" fill="#262626" font-weight="bold" font-style="normal" >0</text>
<text x="294.5" y="95.8" font-size="9" text-anchor="middle" fill="#262626" font-weight="bold" font-style="normal" >500</text>
<text x="321.8" y="89.5" font-size="9" text-anchor="middle" fill="#262626" font-weight="bold" font-style="normal" >1000</text>
<text x="353.0" y="83.9" font-size="9" text-anchor="middle" fill="#262626" font-weight="bold" font-style="normal" >1500</text>
<text transform="translate(198.5,62.1) rotate(-90)" font-size="14" font-weight="bold" fill="#262626"><tspan font-style="italic" font-size="14.8">F</tspan><tspan dx="0.2" letter-spacing="0.4">10</tspan><tspan font-size="9.2" dy="2.1" dx="-0.4">1</tspan></text>
<text x="220.4" y="102.0" font-size="14" font-weight="bold" fill="#262626"><tspan font-style="italic" font-size="14.8">F</tspan><tspan dx="0.2" letter-spacing="0.4">12</tspan><tspan font-size="9.2" dy="2.1" dx="-0.4">1</tspan></text>
<text x="320.0" y="102.7" font-size="14" font-weight="bold" fill="#262626"><tspan font-style="italic" font-size="14.8">F</tspan><tspan dx="0.2" letter-spacing="0.4">9</tspan><tspan font-size="9.2" dy="2.1" dx="-0.4">1</tspan></text>
<rect x="295.7" y="8.4" width="71.9" height="22.3" fill="#fff" stroke="#262626" stroke-width="0.8"/>
<path d="M298.1,15.8h4.4M300.3,13.6v4.4M298.7,14.2l3.2,3.2M298.7,17.4l3.2,-3.2" stroke="#aa5caa" stroke-width="0.75" fill="none"/>
<rect x="299.4" y="23.6" width="1.8" height="1.8" fill="#2c5fb2"/>
<text x="306.4" y="19.0" font-size="13.2" text-anchor="start" fill="#000" font-weight="bold" font-style="normal" >include C1</text>
<text x="305.0" y="28.8" font-size="13.2" text-anchor="start" fill="#000" font-weight="bold" font-style="normal" >without C1</text>
<path d="M35.6,121.0V166.8L94.0,188.3L169.0,172.1" stroke="#1a1a1a" stroke-width="1.3" fill="none" stroke-linejoin="miter"/>
<path d="M35.6,122.4h-1.6M35.6,136.4h-1.6M35.6,151.3h-1.6" stroke="#1a1a1a" stroke-width="0.8"/>
<text x="35.0" y="125.5" font-size="9" text-anchor="end" fill="#262626" font-weight="bold" font-style="normal" >0.6</text>
<text x="35.0" y="139.5" font-size="9" text-anchor="end" fill="#262626" font-weight="bold" font-style="normal" >0.4</text>
<text x="35.0" y="154.4" font-size="9" text-anchor="end" fill="#262626" font-weight="bold" font-style="normal" >0.2</text>
<text x="30.6" y="169.9" font-size="9" text-anchor="middle" fill="#262626" font-weight="bold" font-style="normal" >0</text>
<text x="37.1" y="177.3" font-size="9" text-anchor="middle" fill="#262626" font-weight="bold" font-style="normal" >1</text>
<text x="52.7" y="184.1" font-size="9" text-anchor="middle" fill="#262626" font-weight="bold" font-style="normal" >0.8</text>
<text x="71.7" y="189.7" font-size="9" text-anchor="middle" fill="#262626" font-weight="bold" font-style="normal" >0.6</text>
<text x="107.7" y="195.4" font-size="9" text-anchor="middle" fill="#262626" font-weight="bold" font-style="normal" >500</text>
<text x="139.0" y="188.1" font-size="9" text-anchor="middle" fill="#262626" font-weight="bold" font-style="normal" >1000</text>
<text x="172.8" y="180.8" font-size="9" text-anchor="middle" fill="#262626" font-weight="bold" font-style="normal" >1500</text>
<text transform="translate(19.5,158.9) rotate(-90)" font-size="14" font-weight="bold" fill="#262626"><tspan font-style="italic" font-size="14.8">F</tspan><tspan dx="0.2" letter-spacing="0.4">15</tspan><tspan font-size="9.2" dy="2.1" dx="-0.4">1</tspan></text>
<text x="42.8" y="201.5" font-size="14" font-weight="bold" fill="#262626"><tspan font-style="italic" font-size="14.8">F</tspan><tspan dx="0.2" letter-spacing="0.4">2</tspan><tspan font-size="9.2" dy="2.1" dx="-0.4">1</tspan></text>
<text x="138.0" y="201.4" font-size="14" font-weight="bold" fill="#262626"><tspan font-style="italic" font-size="14.8">F</tspan><tspan dx="0.2" letter-spacing="0.4">9</tspan><tspan font-size="9.2" dy="2.1" dx="-0.4">1</tspan></text>
<rect x="112.2" y="109.5" width="73.5" height="22.1" fill="#fff" stroke="#262626" stroke-width="0.8"/>
<path d="M114.6,116.9h4.4M116.8,114.7v4.4M115.2,115.3l3.2,3.2M115.2,118.5l3.2,-3.2" stroke="#aa5caa" stroke-width="0.75" fill="none"/>
<rect x="115.9" y="124.7" width="1.8" height="1.8" fill="#2c5fb2"/>
<text x="122.9" y="120.1" font-size="13.2" text-anchor="start" fill="#000" font-weight="bold" font-style="normal" >include C2</text>
<text x="121.5" y="129.9" font-size="13.2" text-anchor="start" fill="#000" font-weight="bold" font-style="normal" >without C2</text>
<path d="M213.5,121.3V166.9L278.5,188.4L363.5,172.0" stroke="#1a1a1a" stroke-width="1.3" fill="none" stroke-linejoin="miter"/>
<path d="M213.5,122.2h-1.6M213.5,144.3h-1.6" stroke="#1a1a1a" stroke-width="0.8"/>
<text x="212.5" y="125.3" font-size="9" text-anchor="end" fill="#262626" font-weight="bold" font-style="normal" >40</text>
<text x="212.5" y="147.4" font-size="9" text-anchor="end" fill="#262626" font-weight="bold" font-style="normal" >20</text>
<text x="208.0" y="167.7" font-size="9" text-anchor="middle" fill="#262626" font-weight="bold" font-style="normal" >0</text>
<text x="206.5" y="175.7" font-size="9" text-anchor="middle" fill="#262626" font-weight="bold" font-style="normal" >100</text>
<text x="241.5" y="186.1" font-size="9" text-anchor="middle" fill="#262626" font-weight="bold" font-style="normal" >50</text>
<text x="274.7" y="196.2" font-size="9" text-anchor="middle" fill="#262626" font-weight="bold" font-style="normal" >0</text>
<text x="286.1" y="197.9" font-size="9" text-anchor="middle" fill="#262626" font-weight="bold" font-style="normal" >-0.4</text>
<text x="304.2" y="193.2" font-size="9" text-anchor="middle" fill="#262626" font-weight="bold" font-style="normal" >-0.3</text>
<text x="323.8" y="189.6" font-size="9" text-anchor="middle" fill="#262626" font-weight="bold" font-style="normal" >-0.2</text>
<text x="341.6" y="186.8" font-size="9" text-anchor="middle" fill="#262626" font-weight="bold" font-style="normal" >-0.1</text>
<text x="357.0" y="183.7" font-size="9" text-anchor="middle" fill="#262626" font-weight="bold" font-style="normal" >0</text>
<text transform="translate(200.0,160.0) rotate(-90)" font-size="14" font-weight="bold" fill="#262626"><tspan font-style="italic" font-size="14.8">F</tspan><tspan dx="0.2" letter-spacing="0.4">13</tspan><tspan font-size="9.2" dy="2.1" dx="-0.4">4</tspan></text>
<text x="223.1" y="204.4" font-size="14" font-weight="bold" fill="#262626"><tspan font-style="italic" font-size="14.8">F</tspan><tspan dx="0.2" letter-spacing="0.4">9</tspan><tspan font-size="9.2" dy="2.1" dx="-0.4">4</tspan></text>
<text x="325.3" y="205.3" font-size="14" font-weight="bold" fill="#262626"><tspan font-style="italic" font-size="14.8">F</tspan><tspan dx="0.2" letter-spacing="0.4">4</tspan><tspan font-size="9.2" dy="2.1" dx="-0.4">4</tspan></text>
<rect x="291.8" y="107.7" width="73.6" height="22.0" fill="#fff" stroke="#262626" stroke-width="0.8"/>
<path d="M294.2,115.1h4.4M296.4,112.9v4.4M294.8,113.5l3.2,3.2M294.8,116.7l3.2,-3.2" stroke="#aa5caa" stroke-width="0.75" fill="none"/>
<rect x="295.5" y="122.9" width="1.8" height="1.8" fill="#2c5fb2"/>
<text x="302.5" y="118.3" font-size="13.2" text-anchor="start" fill="#000" font-weight="bold" font-style="normal" >include C3</text>
<text x="301.1" y="128.1" font-size="13.2" text-anchor="start" fill="#000" font-weight="bold" font-style="normal" >without C3</text>
<path d="M393.8,121.3V166.8L453.6,187.5L532.8,171.4" stroke="#1a1a1a" stroke-width="1.3" fill="none" stroke-linejoin="miter"/>
<path d="M393.8,122.6h-1.6M393.8,136.6h-1.6M393.8,151.9h-1.6" stroke="#1a1a1a" stroke-width="0.8"/>
<text x="392.7" y="125.7" font-size="9" text-anchor="end" fill="#262626" font-weight="bold" font-style="normal" >1.5</text>
<text x="392.7" y="139.7" font-size="9" text-anchor="end" fill="#262626" font-weight="bold" font-style="normal" >1</text>
<text x="392.7" y="155.0" font-size="9" text-anchor="end" fill="#262626" font-weight="bold" font-style="normal" >0.5</text>
<text x="387.5" y="169.8" font-size="9" text-anchor="middle" fill="#262626" font-weight="bold" font-style="normal" >0</text>
<text x="389.0" y="177.6" font-size="9" text-anchor="middle" fill="#262626" font-weight="bold" font-style="normal" >1.5</text>
<text x="411.0" y="184.4" font-size="9" text-anchor="middle" fill="#262626" font-weight="bold" font-style="normal" >1</text>
<text x="429.0" y="191.6" font-size="9" text-anchor="middle" fill="#262626" font-weight="bold" font-style="normal" >0.5</text>
<text x="450.0" y="196.4" font-size="9" text-anchor="middle" fill="#262626" font-weight="bold" font-style="normal" >0</text>
<text x="460.3" y="196.1" font-size="9" text-anchor="middle" fill="#262626" font-weight="bold" font-style="normal" >0</text>
<text x="482.6" y="193.2" font-size="9" text-anchor="middle" fill="#262626" font-weight="bold" font-style="normal" >0.1</text>
<text x="501.6" y="188.3" font-size="9" text-anchor="middle" fill="#262626" font-weight="bold" font-style="normal" >0.2</text>
<text x="521.2" y="184.5" font-size="9" text-anchor="middle" fill="#262626" font-weight="bold" font-style="normal" >0.3</text>
<text x="536.4" y="180.7" font-size="9" text-anchor="middle" fill="#262626" font-weight="bold" font-style="normal" >0.4</text>
<text transform="translate(380.0,162.0) rotate(-90)" font-size="14" font-weight="bold" fill="#262626"><tspan font-style="italic" font-size="14.8">F</tspan><tspan dx="0.2" letter-spacing="0.4">1</tspan><tspan font-size="9.2" dy="2.1" dx="-0.4">3</tspan></text>
<text x="401.8" y="202.7" font-size="14" font-weight="bold" fill="#262626"><tspan font-style="italic" font-size="14.8">F</tspan><tspan dx="0.2" letter-spacing="0.4">1</tspan><tspan font-size="9.2" dy="2.1" dx="-0.4">2</tspan></text>
<text x="496.2" y="202.7" font-size="14" font-weight="bold" fill="#262626"><tspan font-style="italic" font-size="14.8">F</tspan><tspan dx="0.2" letter-spacing="0.4">5</tspan><tspan font-size="9.2" dy="2.1" dx="-0.4">2</tspan></text>
<rect x="471.6" y="107.9" width="73.8" height="21.9" fill="#fff" stroke="#262626" stroke-width="0.8"/>
<path d="M474.0,115.3h4.4M476.2,113.1v4.4M474.6,113.7l3.2,3.2M474.6,116.9l3.2,-3.2" stroke="#aa5caa" stroke-width="0.75" fill="none"/>
<rect x="475.3" y="123.1" width="1.8" height="1.8" fill="#2c5fb2"/>
<text x="482.3" y="118.5" font-size="13.2" text-anchor="start" fill="#000" font-weight="bold" font-style="normal" >include C4</text>
<text x="480.9" y="128.3" font-size="13.2" text-anchor="start" fill="#000" font-weight="bold" font-style="normal" >without C4</text>
<path d="M37.4,223.8V269.0L95.0,290.2L171.8,274.4" stroke="#1a1a1a" stroke-width="1.3" fill="none" stroke-linejoin="miter"/>
<path d="M37.4,224.4h-1.6M37.4,239.1h-1.6M37.4,254.1h-1.6" stroke="#1a1a1a" stroke-width="0.8"/>
<text x="35.2" y="227.5" font-size="9" text-anchor="end" fill="#262626" font-weight="bold" font-style="normal" >300</text>
<text x="35.2" y="242.2" font-size="9" text-anchor="end" fill="#262626" font-weight="bold" font-style="normal" >200</text>
<text x="35.2" y="257.2" font-size="9" text-anchor="end" fill="#262626" font-weight="bold" font-style="normal" >100</text>
<text x="31.8" y="271.5" font-size="9" text-anchor="middle" fill="#262626" font-weight="bold" font-style="normal" >0</text>
<text x="29.1" y="278.0" font-size="9" text-anchor="middle" fill="#262626" font-weight="bold" font-style="normal" >1000</text>
<text x="59.1" y="288.6" font-size="9" text-anchor="middle" fill="#262626" font-weight="bold" font-style="normal" >500</text>
<text x="91.5" y="298.3" font-size="9" text-anchor="middle" fill="#262626" font-weight="bold" font-style="normal" >0</text>
<text x="101.3" y="299.1" font-size="9" text-anchor="middle" fill="#262626" font-weight="bold" font-style="normal" >0</text>
<text x="126.5" y="294.4" font-size="9" text-anchor="middle" fill="#262626" font-weight="bold" font-style="normal" >100</text>
<text x="152.5" y="288.8" font-size="9" text-anchor="middle" fill="#262626" font-weight="bold" font-style="normal" >200</text>
<text x="175.8" y="283.7" font-size="9" text-anchor="middle" fill="#262626" font-weight="bold" font-style="normal" >300</text>
<text transform="translate(16.5,258.4) rotate(-90)" font-size="14" font-weight="bold" fill="#262626"><tspan font-style="italic" font-size="14.8">F</tspan><tspan dx="0.2" letter-spacing="0.4">9</tspan><tspan font-size="9.2" dy="2.1" dx="-0.4">2</tspan></text>
<text x="39.1" y="304.5" font-size="14" font-weight="bold" fill="#262626"><tspan font-style="italic" font-size="14.8">F</tspan><tspan dx="0.2" letter-spacing="0.4">8</tspan><tspan font-size="9.2" dy="2.1" dx="-0.4">3</tspan></text>
<text x="139.7" y="304.5" font-size="14" font-weight="bold" fill="#262626"><tspan font-style="italic" font-size="14.8">F</tspan><tspan dx="0.2" letter-spacing="0.4">9</tspan><tspan font-size="9.2" dy="2.1" dx="-0.4">3</tspan></text>
<rect x="116.2" y="209.3" width="74.1" height="22.0" fill="#fff" stroke="#262626" stroke-width="0.8"/>
<path d="M118.6,216.7h4.4M120.8,214.5v4.4M119.2,215.1l3.2,3.2M119.2,218.3l3.2,-3.2" stroke="#aa5caa" stroke-width="0.75" fill="none"/>
<rect x="119.9" y="224.5" width="1.8" height="1.8" fill="#2c5fb2"/>
<text x="126.9" y="219.9" font-size="13.2" text-anchor="start" fill="#000" font-weight="bold" font-style="normal" >include C5</text>
<text x="125.5" y="229.7" font-size="13.2" text-anchor="start" fill="#000" font-weight="bold" font-style="normal" >without C5</text>
<path d="M220.6,223.4V268.9L278.0,290.5L354.8,273.5" stroke="#1a1a1a" stroke-width="1.3" fill="none" stroke-linejoin="miter"/>
<path d="M220.6,224.4h-1.6M220.6,246.4h-1.6" stroke="#1a1a1a" stroke-width="0.8"/>
<text x="220.0" y="227.5" font-size="9" text-anchor="end" fill="#262626" font-weight="bold" font-style="normal" >2000</text>
<text x="220.0" y="249.5" font-size="9" text-anchor="end" fill="#262626" font-weight="bold" font-style="normal" >1000</text>
<text x="215.2" y="272.3" font-size="9" text-anchor="middle" fill="#262626" font-weight="bold" font-style="normal" >0</text>
<text x="219.8" y="279.8" font-size="9" text-anchor="middle" fill="#262626" font-weight="bold" font-style="normal" >60</text>
<text x="237.8" y="285.9" font-size="9" text-anchor="middle" fill="#262626" font-weight="bold" font-style="normal" >40</text>
<text x="255.4" y="292.4" font-size="9" text-anchor="middle" fill="#262626" font-weight="bold" font-style="normal" >20</text>
<text x="274.6" y="298.6" font-size="9" text-anchor="middle" fill="#262626" font-weight="bold" font-style="normal" >0</text>
<text x="284.0" y="299.3" font-size="9" text-anchor="middle" fill="#262626" font-weight="bold" font-style="normal" >0</text>
<text x="305.0" y="295.3" font-size="9" text-anchor="middle" fill="#262626" font-weight="bold" font-style="normal" >0.2</text>
<text x="324.3" y="291.3" font-size="9" text-anchor="middle" fill="#262626" font-weight="bold" font-style="normal" >0.4</text>
<text x="343.7" y="287.4" font-size="9" text-anchor="middle" fill="#262626" font-weight="bold" font-style="normal" >0.6</text>
<text x="361.3" y="283.1" font-size="9" text-anchor="middle" fill="#262626" font-weight="bold" font-style="normal" >0.8</text>
<text transform="translate(200.5,263.1) rotate(-90)" font-size="14" font-weight="bold" fill="#262626"><tspan font-style="italic" font-size="14.8">F</tspan><tspan dx="0.2" letter-spacing="0.4">16</tspan><tspan font-size="9.2" dy="2.1" dx="-0.4">1</tspan></text>
<text x="224.8" y="304.1" font-size="14" font-weight="bold" fill="#262626"><tspan font-style="italic" font-size="14.8">F</tspan><tspan dx="0.2" letter-spacing="0.4">12</tspan><tspan font-size="9.2" dy="2.1" dx="-0.4">1</tspan></text>
<text x="315.9" y="304.6" font-size="14" font-weight="bold" fill="#262626"><tspan font-style="italic" font-size="14.8">F</tspan><tspan dx="0.2" letter-spacing="0.4">10</tspan><tspan font-size="9.2" dy="2.1" dx="-0.4">1</tspan></text>
<rect x="293.4" y="212.6" width="73.4" height="21.8" fill="#fff" stroke="#262626" stroke-width="0.8"/>
<path d="M295.8,220.0h4.4M298.0,217.8v4.4M296.4,218.4l3.2,3.2M296.4,221.6l3.2,-3.2" stroke="#aa5caa" stroke-width="0.75" fill="none"/>
<rect x="297.1" y="227.8" width="1.8" height="1.8" fill="#2c5fb2"/>
<text x="304.1" y="223.2" font-size="13.2" text-anchor="start" fill="#000" font-weight="bold" font-style="normal" >include C6</text>
<text x="302.7" y="233.0" font-size="13.2" text-anchor="start" fill="#000" font-weight="bold" font-style="normal" >without C6</text>
<path d="M396.3,223.4V267.6L458.5,289.2L538.6,273.8" stroke="#1a1a1a" stroke-width="1.3" fill="none" stroke-linejoin="miter"/>
<path d="M396.3,228.2h-1.6M396.3,248.3h-1.6" stroke="#1a1a1a" stroke-width="0.8"/>
<text x="395.2" y="231.3" font-size="9" text-anchor="end" fill="#262626" font-weight="bold" font-style="normal" >0.2</text>
<text x="395.2" y="251.4" font-size="9" text-anchor="end" fill="#262626" font-weight="bold" font-style="normal" >0.1</text>
<text x="391.1" y="272.0" font-size="9" text-anchor="middle" fill="#262626" font-weight="bold" font-style="normal" >0</text>
<text x="395.1" y="279.3" font-size="9" text-anchor="middle" fill="#262626" font-weight="bold" font-style="normal" >60</text>
<text x="414.2" y="285.3" font-size="9" text-anchor="middle" fill="#262626" font-weight="bold" font-style="normal" >40</text>
<text x="433.3" y="290.9" font-size="9" text-anchor="middle" fill="#262626" font-weight="bold" font-style="normal" >20</text>
<text x="453.4" y="297.1" font-size="9" text-anchor="middle" fill="#262626" font-weight="bold" font-style="normal" >0</text>
<text x="463.5" y="297.6" font-size="9" text-anchor="middle" fill="#262626" font-weight="bold" font-style="normal" >1</text>
<text x="486.8" y="293.4" font-size="9" text-anchor="middle" fill="#262626" font-weight="bold" font-style="normal" >1.5</text>
<text x="503.6" y="290.3" font-size="9" text-anchor="middle" fill="#262626" font-weight="bold" font-style="normal" >2</text>
<text x="526.5" y="286.3" font-size="9" text-anchor="middle" fill="#262626" font-weight="bold" font-style="normal" >2.5</text>
<text x="543.2" y="282.1" font-size="9" text-anchor="middle" fill="#262626" font-weight="bold" font-style="normal" >3</text>
<text transform="translate(381.5,264.1) rotate(-90)" font-size="14" font-weight="bold" fill="#262626"><tspan font-style="italic" font-size="14.8">F</tspan><tspan dx="0.2" letter-spacing="0.4">15</tspan><tspan font-size="9.2" dy="2.1" dx="-0.4">2</tspan></text>
<text x="401.7" y="305.3" font-size="14" font-weight="bold" fill="#262626"><tspan font-style="italic" font-size="14.8">F</tspan><tspan dx="0.2" letter-spacing="0.4">12</tspan><tspan font-size="9.2" dy="2.1" dx="-0.4">1</tspan></text>
<text x="499.0" y="305.8" font-size="14" font-weight="bold" fill="#262626"><tspan font-style="italic" font-size="14.8">F</tspan><tspan dx="0.2" letter-spacing="0.4">1</tspan><tspan font-size="9.2" dy="2.1" dx="-0.4">1</tspan></text>
<rect x="469.4" y="212.4" width="73.4" height="22.0" fill="#fff" stroke="#262626" stroke-width="0.8"/>
<path d="M471.8,219.8h4.4M474.0,217.6v4.4M472.4,218.2l3.2,3.2M472.4,221.4l3.2,-3.2" stroke="#aa5caa" stroke-width="0.75" fill="none"/>
<rect x="473.1" y="227.6" width="1.8" height="1.8" fill="#2c5fb2"/>
<text x="480.1" y="223.0" font-size="13.2" text-anchor="start" fill="#000" font-weight="bold" font-style="normal" >include C7</text>
<text x="478.7" y="232.8" font-size="13.2" text-anchor="start" fill="#000" font-weight="bold" font-style="normal" >without C7</text>
</svg></body></html>
